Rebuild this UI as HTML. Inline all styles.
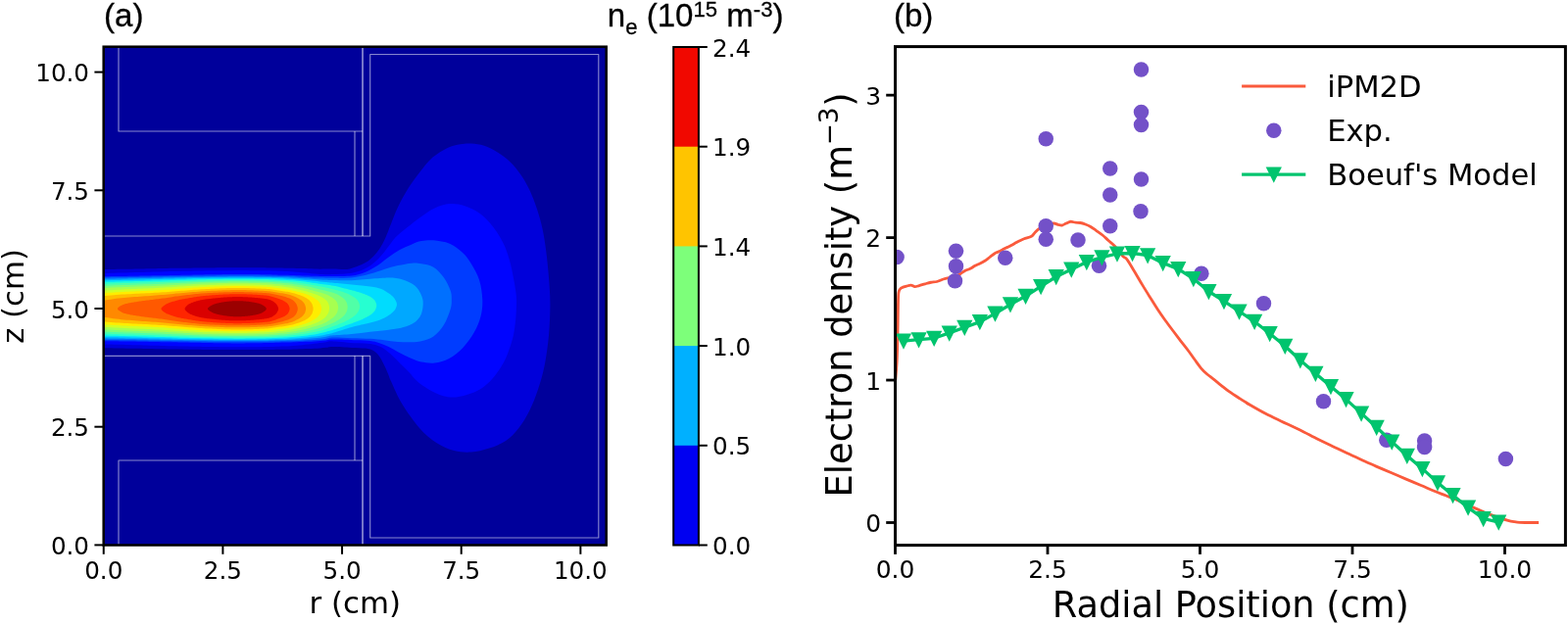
<!DOCTYPE html>
<html lang="en"><head><meta charset="utf-8"><title>Electron density</title>
<style>
html,body{margin:0;padding:0;background:#fff;}
body{width:1600px;height:636px;overflow:hidden;position:relative;}
svg text{white-space:pre;}
</style></head>
<body>
<svg width="1600" height="636" viewBox="0 0 1600 636" style="position:absolute;left:0;top:0;display:block">
<defs>
<clipPath id="cl"><rect x="105.7" y="47.7" width="513" height="508.8"/></clipPath>
<clipPath id="cr"><rect x="913.5" y="47.6" width="683.9" height="509"/></clipPath>
</defs>
<rect x="0" y="0" width="1600" height="636" fill="#ffffff"/>
<g clip-path="url(#cl)">
<rect x="105.7" y="47.7" width="513" height="508.8" fill="#00009b"/>
<path d="M104.7 275.08 C105.7 275.07 108.7 275.06 110.7 275.04 C112.7 275.02 114.7 274.99 116.7 274.96 C118.7 274.93 120.7 274.9 122.7 274.87 C124.7 274.84 126.7 274.81 128.7 274.77 C130.7 274.74 132.7 274.7 134.7 274.66 C136.7 274.62 138.7 274.58 140.7 274.54 C142.7 274.51 144.7 274.46 146.7 274.42 C148.7 274.38 150.7 274.34 152.7 274.3 C154.7 274.26 156.7 274.22 158.7 274.18 C160.7 274.15 162.7 274.11 164.7 274.07 C166.7 274.03 168.7 274 170.7 273.96 C172.7 273.93 174.7 273.9 176.7 273.87 C178.7 273.84 180.7 273.81 182.7 273.79 C184.7 273.76 186.7 273.74 188.7 273.71 C190.7 273.69 192.7 273.67 194.7 273.64 C196.7 273.62 198.7 273.6 200.7 273.57 C202.7 273.55 204.7 273.53 206.7 273.51 C208.7 273.49 210.7 273.47 212.7 273.46 C214.7 273.44 216.7 273.43 218.7 273.41 C220.7 273.4 222.7 273.39 224.7 273.37 C226.7 273.36 228.7 273.35 230.7 273.34 C232.7 273.33 234.7 273.32 236.7 273.31 C238.7 273.31 240.7 273.3 242.7 273.3 C244.7 273.3 246.7 273.3 248.7 273.3 C250.7 273.3 252.7 273.3 254.7 273.31 C256.7 273.31 258.7 273.32 260.7 273.32 C262.7 273.33 264.7 273.34 266.7 273.35 C268.7 273.36 270.7 273.37 272.7 273.38 C274.7 273.4 276.7 273.43 278.7 273.46 C280.7 273.49 282.7 273.52 284.7 273.55 C286.7 273.58 288.7 273.61 290.7 273.64 C292.7 273.68 294.7 273.71 296.7 273.76 C298.7 273.8 300.7 273.86 302.7 273.92 C304.7 273.97 306.7 274.03 308.7 274.09 C310.7 274.16 312.7 274.22 314.7 274.3 C316.7 274.37 318.7 274.48 320.7 274.54 C322.7 274.59 324.7 274.62 326.7 274.63 C328.7 274.63 330.48 274.6 332.7 274.57 C334.92 274.54 336.42 274.39 340 274.45 C343.58 274.5 350.27 275.26 354.2 274.9 C358.13 274.54 360.38 273.48 363.6 272.3 C366.82 271.12 370.52 269.65 373.5 267.8 C376.48 265.95 379.12 263.63 381.5 261.2 C383.88 258.77 385.98 255.95 387.8 253.2 C389.62 250.45 391.15 247.23 392.4 244.7 C393.65 242.17 394.17 240.78 395.3 238 C396.43 235.22 397.42 232.43 399.2 228 C400.98 223.57 403.03 217.47 406 211.4 C408.97 205.33 413.33 197.47 417 191.6 C420.67 185.73 423.95 181.33 428 176.2 C432.05 171.07 436.52 165.02 441.3 160.8 C446.08 156.58 451.93 153.17 456.7 150.9 C461.47 148.63 465.87 147.93 469.9 147.2 C473.93 146.47 476.87 146.25 480.9 146.5 C484.93 146.75 489.7 147.23 494.1 148.7 C498.5 150.17 502.9 152.55 507.3 155.3 C511.7 158.05 516.47 161.35 520.5 165.2 C524.53 169.05 528.2 173.63 531.5 178.4 C534.8 183.17 537.55 187.93 540.3 193.8 C543.05 199.67 545.8 206.98 548 213.6 C550.2 220.22 551.95 226.32 553.5 233.5 C555.05 240.68 556.22 248.37 557.3 256.7 C558.38 265.03 559.32 274.62 560 283.5 C560.68 292.38 561.4 300.2 561.4 310 C561.4 319.8 560.95 331.8 560 342.3 C559.05 352.8 557.52 363.85 555.7 373 C553.88 382.15 551.67 389.5 549.1 397.2 C546.53 404.9 543.6 412.58 540.3 419.2 C537 425.82 533.33 431.77 529.3 436.9 C525.27 442.03 521.23 446.52 516.1 450 C510.97 453.48 504.37 455.88 498.5 457.8 C492.63 459.72 486.77 461.13 480.9 461.5 C475.03 461.87 469.17 461.53 463.3 460 C457.43 458.47 451.58 456.15 445.7 452.3 C439.82 448.45 433.88 443.52 428 436.9 C422.12 430.28 415.17 420.42 410.4 412.6 C405.63 404.78 401.85 395.28 399.4 390 C396.95 384.72 397.03 383.98 395.7 380.9 C394.37 377.82 392.82 374.32 391.4 371.5 C389.98 368.68 388.85 366.2 387.2 364 C385.55 361.8 383.87 359.7 381.5 358.3 C379.13 356.9 376.77 356.17 373 355.6 C369.23 355.03 364.4 355.18 358.9 354.9 C353.4 354.62 344.37 353.96 340 353.95 C335.63 353.94 334.92 354.57 332.7 354.82 C330.48 355.07 328.7 355.28 326.7 355.45 C324.7 355.62 322.7 355.75 320.7 355.86 C318.7 355.97 316.7 356.03 314.7 356.1 C312.7 356.18 310.7 356.24 308.7 356.31 C306.7 356.37 304.7 356.43 302.7 356.48 C300.7 356.54 298.7 356.6 296.7 356.64 C294.7 356.69 292.7 356.72 290.7 356.76 C288.7 356.79 286.7 356.82 284.7 356.85 C282.7 356.88 280.7 356.91 278.7 356.94 C276.7 356.97 274.7 357 272.7 357.02 C270.7 357.03 268.7 357.04 266.7 357.05 C264.7 357.06 262.7 357.07 260.7 357.08 C258.7 357.08 256.7 357.09 254.7 357.09 C252.7 357.1 250.7 357.1 248.7 357.1 C246.7 357.1 244.7 357.1 242.7 357.1 C240.7 357.1 238.7 357.09 236.7 357.09 C234.7 357.08 232.7 357.07 230.7 357.06 C228.7 357.05 226.7 357.04 224.7 357.03 C222.7 357.01 220.7 357 218.7 356.99 C216.7 356.97 214.7 356.96 212.7 356.94 C210.7 356.93 208.7 356.91 206.7 356.89 C204.7 356.87 202.7 356.85 200.7 356.83 C198.7 356.8 196.7 356.78 194.7 356.76 C192.7 356.73 190.7 356.71 188.7 356.69 C186.7 356.66 184.7 356.64 182.7 356.61 C180.7 356.59 178.7 356.56 176.7 356.53 C174.7 356.5 172.7 356.47 170.7 356.44 C168.7 356.4 166.7 356.37 164.7 356.33 C162.7 356.29 160.7 356.25 158.7 356.22 C156.7 356.18 154.7 356.14 152.7 356.1 C150.7 356.06 148.7 356.02 146.7 355.98 C144.7 355.94 142.7 355.89 140.7 355.86 C138.7 355.82 136.7 355.78 134.7 355.74 C132.7 355.7 130.7 355.66 128.7 355.63 C126.7 355.59 124.7 355.56 122.7 355.53 C120.7 355.5 118.7 355.47 116.7 355.44 C114.7 355.41 112.7 355.38 110.7 355.36 C108.7 355.34 105.7 355.33 104.7 355.32Z" fill="#0000da"/>
<path d="M104.7 278.98 C105.7 278.97 108.7 278.93 110.7 278.88 C112.7 278.83 114.7 278.76 116.7 278.7 C118.7 278.65 120.7 278.59 122.7 278.54 C124.7 278.48 126.7 278.43 128.7 278.38 C130.7 278.33 132.7 278.27 134.7 278.22 C136.7 278.17 138.7 278.11 140.7 278.06 C142.7 278.01 144.7 277.95 146.7 277.9 C148.7 277.85 150.7 277.79 152.7 277.74 C154.7 277.68 156.7 277.63 158.7 277.57 C160.7 277.52 162.7 277.46 164.7 277.41 C166.7 277.35 168.7 277.3 170.7 277.24 C172.7 277.19 174.7 277.13 176.7 277.08 C178.7 277.03 180.7 276.98 182.7 276.94 C184.7 276.89 186.7 276.85 188.7 276.81 C190.7 276.76 192.7 276.72 194.7 276.68 C196.7 276.64 198.7 276.6 200.7 276.56 C202.7 276.52 204.7 276.48 206.7 276.45 C208.7 276.42 210.7 276.39 212.7 276.36 C214.7 276.34 216.7 276.31 218.7 276.29 C220.7 276.27 222.7 276.24 224.7 276.22 C226.7 276.2 228.7 276.18 230.7 276.17 C232.7 276.15 234.7 276.14 236.7 276.13 C238.7 276.12 240.7 276.11 242.7 276.11 C244.7 276.11 246.7 276.11 248.7 276.11 C250.7 276.12 252.7 276.13 254.7 276.14 C256.7 276.15 258.7 276.16 260.7 276.18 C262.7 276.2 264.7 276.21 266.7 276.23 C268.7 276.26 270.7 276.27 272.7 276.3 C274.7 276.34 276.7 276.4 278.7 276.46 C280.7 276.52 282.7 276.6 284.7 276.67 C286.7 276.74 288.7 276.8 290.7 276.88 C292.7 276.96 294.7 277.04 296.7 277.16 C298.7 277.29 300.7 277.46 302.7 277.63 C304.7 277.81 306.7 278 308.7 278.19 C310.7 278.39 312.7 278.58 314.7 278.81 C316.7 279.04 318.7 279.36 320.7 279.56 C322.7 279.76 324.7 279.92 326.7 280.02 C328.7 280.12 330.48 280.15 332.7 280.14 C334.92 280.14 335.63 280.26 340 280.01 C344.37 279.77 353.4 279.7 358.9 278.7 C364.4 277.7 369.07 275.88 373 274 C376.93 272.12 379.67 269.77 382.5 267.4 C385.33 265.03 387.65 262.48 390 259.8 C392.35 257.12 394.55 253.97 396.6 251.3 C398.65 248.63 400.73 245.68 402.3 243.8 C403.87 241.92 403.55 242.13 406 240 C408.45 237.87 413.33 233.93 417 231 C420.67 228.07 423.58 225.48 428 222.4 C432.42 219.32 438.35 214.88 443.5 212.5 C448.65 210.12 453.77 208.47 458.9 208.1 C464.03 207.73 469.17 208.65 474.3 210.3 C479.43 211.95 484.93 214.5 489.7 218 C494.47 221.5 498.87 226.15 502.9 231.3 C506.93 236.45 511.05 243.12 513.9 248.9 C516.75 254.68 518.33 260.23 520 266 C521.67 271.77 522.8 277.83 523.9 283.5 C525 289.17 526.08 295.55 526.6 300 C527.12 304.45 527.07 305.87 527 310.2 C526.93 314.53 526.72 320.65 526.2 326 C525.68 331.35 524.97 337.3 523.9 342.3 C522.83 347.3 521.37 351.55 519.8 356 C518.23 360.45 516.95 364.42 514.5 369 C512.05 373.58 508.5 379.25 505.1 383.5 C501.7 387.75 498.13 391.48 494.1 394.5 C490.07 397.52 485.67 399.78 480.9 401.6 C476.13 403.42 470.27 404.95 465.5 405.4 C460.73 405.85 457.07 405.67 452.3 404.3 C447.53 402.93 441.47 399.83 436.9 397.2 C432.33 394.57 428 391.22 424.9 388.5 C421.8 385.78 420.65 383.42 418.3 380.9 C415.95 378.38 413.47 376.07 410.8 373.4 C408.13 370.73 404.98 367.42 402.3 364.9 C399.62 362.38 397.22 360.18 394.7 358.3 C392.18 356.42 390.03 354.82 387.2 353.6 C384.37 352.38 381.63 351.55 377.7 351 C373.77 350.45 369.88 350.74 363.6 350.3 C357.32 349.86 345.15 348.56 340 348.38 C334.85 348.21 334.92 348.97 332.7 349.25 C330.48 349.53 328.7 349.79 326.7 350.06 C324.7 350.32 322.7 350.58 320.7 350.84 C318.7 351.09 316.7 351.36 314.7 351.59 C312.7 351.82 310.7 352.01 308.7 352.21 C306.7 352.4 304.7 352.59 302.7 352.77 C300.7 352.94 298.7 353.11 296.7 353.24 C294.7 353.36 292.7 353.44 290.7 353.52 C288.7 353.6 286.7 353.66 284.7 353.73 C282.7 353.8 280.7 353.88 278.7 353.94 C276.7 354 274.7 354.06 272.7 354.1 C270.7 354.13 268.7 354.14 266.7 354.17 C264.7 354.19 262.7 354.2 260.7 354.22 C258.7 354.24 256.7 354.25 254.7 354.26 C252.7 354.27 250.7 354.28 248.7 354.29 C246.7 354.29 244.7 354.29 242.7 354.29 C240.7 354.29 238.7 354.28 236.7 354.27 C234.7 354.26 232.7 354.25 230.7 354.23 C228.7 354.22 226.7 354.2 224.7 354.18 C222.7 354.16 220.7 354.13 218.7 354.11 C216.7 354.09 214.7 354.06 212.7 354.04 C210.7 354.01 208.7 353.98 206.7 353.95 C204.7 353.92 202.7 353.88 200.7 353.84 C198.7 353.8 196.7 353.76 194.7 353.72 C192.7 353.68 190.7 353.64 188.7 353.59 C186.7 353.55 184.7 353.51 182.7 353.46 C180.7 353.42 178.7 353.37 176.7 353.32 C174.7 353.27 172.7 353.21 170.7 353.16 C168.7 353.1 166.7 353.05 164.7 352.99 C162.7 352.94 160.7 352.88 158.7 352.83 C156.7 352.77 154.7 352.72 152.7 352.66 C150.7 352.61 148.7 352.55 146.7 352.5 C144.7 352.45 142.7 352.39 140.7 352.34 C138.7 352.29 136.7 352.23 134.7 352.18 C132.7 352.13 130.7 352.07 128.7 352.02 C126.7 351.97 124.7 351.92 122.7 351.86 C120.7 351.81 118.7 351.75 116.7 351.7 C114.7 351.64 112.7 351.57 110.7 351.52 C108.7 351.47 105.7 351.43 104.7 351.42Z" fill="#0004ff"/>
<path d="M104.7 282.2 C105.7 282.19 108.7 282.18 110.7 282.16 C112.7 282.14 114.7 282.11 116.7 282.08 C118.7 282.05 120.7 282.02 122.7 281.99 C124.7 281.96 126.7 281.93 128.7 281.9 C130.7 281.87 132.7 281.83 134.7 281.8 C136.7 281.77 138.7 281.73 140.7 281.69 C142.7 281.66 144.7 281.62 146.7 281.58 C148.7 281.55 150.7 281.51 152.7 281.47 C154.7 281.44 156.7 281.4 158.7 281.36 C160.7 281.32 162.7 281.29 164.7 281.25 C166.7 281.21 168.7 281.18 170.7 281.14 C172.7 281.1 174.7 281.06 176.7 281.03 C178.7 280.99 180.7 280.96 182.7 280.93 C184.7 280.89 186.7 280.86 188.7 280.83 C190.7 280.79 192.7 280.76 194.7 280.72 C196.7 280.68 198.7 280.63 200.7 280.59 C202.7 280.55 204.7 280.5 206.7 280.46 C208.7 280.42 210.7 280.38 212.7 280.35 C214.7 280.31 216.7 280.28 218.7 280.25 C220.7 280.21 222.7 280.18 224.7 280.15 C226.7 280.12 228.7 280.09 230.7 280.06 C232.7 280.04 234.7 280.02 236.7 280 C238.7 279.99 240.7 279.98 242.7 279.98 C244.7 279.98 246.7 279.98 248.7 279.99 C250.7 280 252.7 280.02 254.7 280.04 C256.7 280.06 258.7 280.08 260.7 280.11 C262.7 280.14 264.7 280.17 266.7 280.2 C268.7 280.23 270.7 280.25 272.7 280.31 C274.7 280.36 276.7 280.44 278.7 280.51 C280.7 280.58 282.7 280.64 284.7 280.7 C286.7 280.76 288.7 280.8 290.7 280.85 C292.7 280.9 294.7 280.94 296.7 281 C298.7 281.06 300.7 281.14 302.7 281.2 C304.7 281.27 306.7 281.33 308.7 281.4 C310.7 281.47 312.7 281.54 314.7 281.62 C316.7 281.69 318.7 281.81 320.7 281.87 C322.7 281.93 324.7 281.96 326.7 281.98 C328.7 281.99 330.48 281.98 332.7 281.96 C334.92 281.95 335.63 281.96 340 281.89 C344.37 281.81 353.4 282.2 358.9 281.5 C364.4 280.8 368.6 279.43 373 277.7 C377.4 275.97 381.37 273.62 385.3 271.1 C389.23 268.58 392.83 265.27 396.6 262.6 C400.37 259.93 403.97 257.3 407.9 255.1 C411.83 252.9 416.52 250.9 420.2 249.4 C423.88 247.9 426.32 246.78 430 246.1 C433.68 245.42 437.48 244.85 442.3 245.3 C447.12 245.75 453.93 246.68 458.9 248.8 C463.87 250.92 468.42 254.55 472.1 258 C475.78 261.45 478.17 264.82 481 269.5 C483.83 274.18 487.22 279.98 489.1 286.1 C490.98 292.22 492.08 299.95 492.3 306.2 C492.52 312.45 491.83 318.03 490.4 323.6 C488.97 329.17 486.82 334.25 483.7 339.6 C480.58 344.95 475.93 351.3 471.7 355.7 C467.47 360.1 463 363.52 458.3 366 C453.6 368.48 448.22 370 443.5 370.6 C438.78 371.2 433.42 370.15 430 369.6 C426.58 369.05 425.42 368.23 423 367.3 C420.58 366.37 418.33 365.35 415.5 364 C412.67 362.65 409.15 360.85 406 359.2 C402.85 357.55 399.73 355.6 396.6 354.1 C393.47 352.6 390.35 351.2 387.2 350.2 C384.05 349.2 381.63 348.58 377.7 348.1 C373.77 347.62 369.88 347.57 363.6 347.3 C357.32 347.03 345.15 346.49 340 346.51 C334.85 346.53 334.92 347.16 332.7 347.43 C330.48 347.69 328.7 347.92 326.7 348.1 C324.7 348.28 322.7 348.41 320.7 348.53 C318.7 348.64 316.7 348.71 314.7 348.78 C312.7 348.86 310.7 348.93 308.7 349 C306.7 349.07 304.7 349.13 302.7 349.2 C300.7 349.26 298.7 349.34 296.7 349.4 C294.7 349.46 292.7 349.5 290.7 349.55 C288.7 349.6 286.7 349.64 284.7 349.7 C282.7 349.76 280.7 349.82 278.7 349.89 C276.7 349.96 274.7 350.04 272.7 350.09 C270.7 350.15 268.7 350.17 266.7 350.2 C264.7 350.23 262.7 350.26 260.7 350.29 C258.7 350.32 256.7 350.34 254.7 350.36 C252.7 350.38 250.7 350.4 248.7 350.41 C246.7 350.42 244.7 350.42 242.7 350.42 C240.7 350.42 238.7 350.41 236.7 350.4 C234.7 350.38 232.7 350.36 230.7 350.34 C228.7 350.31 226.7 350.28 224.7 350.25 C222.7 350.22 220.7 350.19 218.7 350.15 C216.7 350.12 214.7 350.09 212.7 350.05 C210.7 350.02 208.7 349.98 206.7 349.94 C204.7 349.9 202.7 349.85 200.7 349.81 C198.7 349.77 196.7 349.72 194.7 349.68 C192.7 349.64 190.7 349.61 188.7 349.57 C186.7 349.54 184.7 349.51 182.7 349.47 C180.7 349.44 178.7 349.41 176.7 349.37 C174.7 349.34 172.7 349.3 170.7 349.26 C168.7 349.22 166.7 349.19 164.7 349.15 C162.7 349.11 160.7 349.08 158.7 349.04 C156.7 349 154.7 348.96 152.7 348.93 C150.7 348.89 148.7 348.85 146.7 348.82 C144.7 348.78 142.7 348.74 140.7 348.71 C138.7 348.67 136.7 348.63 134.7 348.6 C132.7 348.57 130.7 348.53 128.7 348.5 C126.7 348.47 124.7 348.44 122.7 348.41 C120.7 348.38 118.7 348.35 116.7 348.32 C114.7 348.29 112.7 348.26 110.7 348.24 C108.7 348.22 105.7 348.21 104.7 348.2Z" fill="#003cff"/>
<path d="M104.7 283.5 C105.7 283.5 108.7 283.48 110.7 283.45 C112.7 283.43 114.7 283.39 116.7 283.36 C118.7 283.33 120.7 283.29 122.7 283.26 C124.7 283.23 126.7 283.19 128.7 283.16 C130.7 283.12 132.7 283.09 134.7 283.05 C136.7 283.01 138.7 282.98 140.7 282.94 C142.7 282.9 144.7 282.86 146.7 282.82 C148.7 282.78 150.7 282.74 152.7 282.71 C154.7 282.67 156.7 282.63 158.7 282.59 C160.7 282.55 162.7 282.51 164.7 282.47 C166.7 282.43 168.7 282.39 170.7 282.35 C172.7 282.31 174.7 282.27 176.7 282.23 C178.7 282.2 180.7 282.17 182.7 282.14 C184.7 282.1 186.7 282.07 188.7 282.04 C190.7 282.01 192.7 281.99 194.7 281.96 C196.7 281.93 198.7 281.9 200.7 281.87 C202.7 281.84 204.7 281.81 206.7 281.79 C208.7 281.77 210.7 281.75 212.7 281.73 C214.7 281.71 216.7 281.69 218.7 281.67 C220.7 281.65 222.7 281.64 224.7 281.62 C226.7 281.61 228.7 281.59 230.7 281.58 C232.7 281.57 234.7 281.56 236.7 281.55 C238.7 281.54 240.7 281.54 242.7 281.54 C244.7 281.53 246.7 281.53 248.7 281.54 C250.7 281.54 252.7 281.55 254.7 281.55 C256.7 281.56 258.7 281.57 260.7 281.58 C262.7 281.6 264.7 281.61 266.7 281.62 C268.7 281.64 270.7 281.65 272.7 281.67 C274.7 281.7 276.7 281.74 278.7 281.78 C280.7 281.82 282.7 281.88 284.7 281.92 C286.7 281.97 288.7 282.01 290.7 282.06 C292.7 282.11 294.7 282.17 296.7 282.24 C298.7 282.31 300.7 282.41 302.7 282.49 C304.7 282.58 306.7 282.66 308.7 282.76 C310.7 282.85 312.7 282.95 314.7 283.06 C316.7 283.17 318.7 283.32 320.7 283.41 C322.7 283.5 324.7 283.56 326.7 283.61 C328.7 283.66 330.48 283.68 332.7 283.71 C334.92 283.74 335.63 283.83 340 283.82 C344.37 283.8 352.62 284.3 358.9 283.6 C365.18 282.9 372.2 281.05 377.7 279.6 C383.2 278.15 387.18 276.32 391.9 274.9 C396.62 273.48 401.28 272.13 406 271.1 C410.72 270.07 416.2 269 420.2 268.7 C424.2 268.4 426.32 268.62 430 269.3 C433.68 269.98 438.47 270.43 442.3 272.8 C446.13 275.17 450.1 279.5 453 283.5 C455.9 287.5 458.4 293.05 459.7 296.8 C461 300.55 460.8 302.87 460.8 306 C460.8 309.13 461 311.33 459.7 315.6 C458.4 319.87 455.9 326.93 453 331.6 C450.1 336.27 446.13 340.83 442.3 343.6 C438.47 346.37 433.68 347.27 430 348.2 C426.32 349.13 424.2 349.08 420.2 349.2 C416.2 349.32 410.72 349.22 406 348.9 C401.28 348.58 396.62 347.82 391.9 347.3 C387.18 346.78 383.2 346.15 377.7 345.8 C372.2 345.45 365.18 345.4 358.9 345.2 C352.62 345 344.37 344.5 340 344.58 C335.63 344.66 334.92 345.37 332.7 345.68 C330.48 346 328.7 346.24 326.7 346.46 C324.7 346.68 322.7 346.84 320.7 346.98 C318.7 347.13 316.7 347.23 314.7 347.34 C312.7 347.45 310.7 347.55 308.7 347.64 C306.7 347.74 304.7 347.82 302.7 347.91 C300.7 347.99 298.7 348.09 296.7 348.16 C294.7 348.23 292.7 348.29 290.7 348.34 C288.7 348.39 286.7 348.43 284.7 348.48 C282.7 348.52 280.7 348.58 278.7 348.62 C276.7 348.66 274.7 348.7 272.7 348.73 C270.7 348.75 268.7 348.76 266.7 348.78 C264.7 348.79 262.7 348.8 260.7 348.82 C258.7 348.83 256.7 348.84 254.7 348.85 C252.7 348.85 250.7 348.86 248.7 348.86 C246.7 348.87 244.7 348.87 242.7 348.86 C240.7 348.86 238.7 348.86 236.7 348.85 C234.7 348.84 232.7 348.83 230.7 348.82 C228.7 348.81 226.7 348.79 224.7 348.78 C222.7 348.76 220.7 348.75 218.7 348.73 C216.7 348.71 214.7 348.69 212.7 348.67 C210.7 348.65 208.7 348.63 206.7 348.61 C204.7 348.59 202.7 348.56 200.7 348.53 C198.7 348.5 196.7 348.47 194.7 348.44 C192.7 348.41 190.7 348.39 188.7 348.36 C186.7 348.33 184.7 348.3 182.7 348.26 C180.7 348.23 178.7 348.2 176.7 348.17 C174.7 348.13 172.7 348.09 170.7 348.05 C168.7 348.01 166.7 347.97 164.7 347.93 C162.7 347.89 160.7 347.85 158.7 347.81 C156.7 347.77 154.7 347.73 152.7 347.69 C150.7 347.66 148.7 347.62 146.7 347.58 C144.7 347.54 142.7 347.5 140.7 347.46 C138.7 347.42 136.7 347.39 134.7 347.35 C132.7 347.31 130.7 347.28 128.7 347.24 C126.7 347.21 124.7 347.17 122.7 347.14 C120.7 347.11 118.7 347.07 116.7 347.04 C114.7 347.01 112.7 346.97 110.7 346.95 C108.7 346.92 105.7 346.9 104.7 346.9Z" fill="#0070ff"/>
<path d="M104.7 284.83 C105.7 284.82 108.7 284.79 110.7 284.76 C112.7 284.73 114.7 284.69 116.7 284.65 C118.7 284.61 120.7 284.58 122.7 284.54 C124.7 284.5 126.7 284.47 128.7 284.43 C130.7 284.39 132.7 284.35 134.7 284.31 C136.7 284.27 138.7 284.23 140.7 284.2 C142.7 284.16 144.7 284.12 146.7 284.07 C148.7 284.03 150.7 283.99 152.7 283.95 C154.7 283.91 156.7 283.87 158.7 283.83 C160.7 283.78 162.7 283.74 164.7 283.7 C166.7 283.66 168.7 283.61 170.7 283.57 C172.7 283.53 174.7 283.48 176.7 283.44 C178.7 283.4 180.7 283.36 182.7 283.32 C184.7 283.29 186.7 283.25 188.7 283.21 C190.7 283.18 192.7 283.14 194.7 283.11 C196.7 283.07 198.7 283.03 200.7 283 C202.7 282.96 204.7 282.93 206.7 282.9 C208.7 282.87 210.7 282.85 212.7 282.82 C214.7 282.8 216.7 282.78 218.7 282.76 C220.7 282.73 222.7 282.71 224.7 282.69 C226.7 282.67 228.7 282.66 230.7 282.64 C232.7 282.63 234.7 282.61 236.7 282.6 C238.7 282.6 240.7 282.59 242.7 282.59 C244.7 282.59 246.7 282.59 248.7 282.59 C250.7 282.6 252.7 282.61 254.7 282.62 C256.7 282.63 258.7 282.64 260.7 282.66 C262.7 282.67 264.7 282.69 266.7 282.71 C268.7 282.73 270.7 282.74 272.7 282.77 C274.7 282.81 276.7 282.86 278.7 282.92 C280.7 282.97 282.7 283.04 284.7 283.1 C286.7 283.16 288.7 283.21 290.7 283.27 C292.7 283.34 294.7 283.4 296.7 283.49 C298.7 283.58 300.7 283.69 302.7 283.8 C304.7 283.9 306.7 284.01 308.7 284.13 C310.7 284.26 312.7 284.39 314.7 284.54 C316.7 284.69 318.7 284.89 320.7 285.03 C322.7 285.17 324.7 285.27 326.7 285.38 C328.7 285.48 330.48 285.55 332.7 285.65 C334.92 285.76 335.63 285.94 340 286.03 C344.37 286.12 352.62 286.41 358.9 286.2 C365.18 285.99 371.42 285.23 377.7 284.8 C383.98 284.37 391.88 283.68 396.6 283.6 C401.32 283.52 402.83 283.7 406 284.3 C409.17 284.9 412.68 285.95 415.6 287.2 C418.52 288.45 421.38 290 423.5 291.8 C425.62 293.6 427.02 295.8 428.3 298 C429.58 300.2 430.63 302.83 431.2 305 C431.77 307.17 431.77 308.92 431.7 311 C431.63 313.08 431.35 315.4 430.8 317.5 C430.25 319.6 429.53 321.77 428.4 323.6 C427.27 325.43 425.7 327.13 424 328.5 C422.3 329.87 420.4 330.83 418.2 331.8 C416 332.77 413.02 333.67 410.8 334.3 C408.58 334.93 407.27 335.18 404.9 335.6 C402.53 336.02 401.13 336.27 396.6 336.8 C392.07 337.33 383.98 338.1 377.7 338.8 C371.42 339.5 365.18 340.41 358.9 341 C352.62 341.59 344.37 341.91 340 342.37 C335.63 342.82 334.92 343.35 332.7 343.74 C330.48 344.13 328.7 344.42 326.7 344.7 C324.7 344.97 322.7 345.17 320.7 345.37 C318.7 345.56 316.7 345.71 314.7 345.86 C312.7 346.01 310.7 346.14 308.7 346.27 C306.7 346.39 304.7 346.5 302.7 346.6 C300.7 346.71 298.7 346.82 296.7 346.91 C294.7 347 292.7 347.06 290.7 347.13 C288.7 347.19 286.7 347.24 284.7 347.3 C282.7 347.36 280.7 347.43 278.7 347.48 C276.7 347.54 274.7 347.59 272.7 347.63 C270.7 347.66 268.7 347.67 266.7 347.69 C264.7 347.71 262.7 347.73 260.7 347.74 C258.7 347.76 256.7 347.77 254.7 347.78 C252.7 347.79 250.7 347.8 248.7 347.81 C246.7 347.81 244.7 347.81 242.7 347.81 C240.7 347.81 238.7 347.8 236.7 347.8 C234.7 347.79 232.7 347.77 230.7 347.76 C228.7 347.74 226.7 347.73 224.7 347.71 C222.7 347.69 220.7 347.67 218.7 347.64 C216.7 347.62 214.7 347.6 212.7 347.58 C210.7 347.55 208.7 347.53 206.7 347.5 C204.7 347.47 202.7 347.44 200.7 347.4 C198.7 347.37 196.7 347.33 194.7 347.29 C192.7 347.26 190.7 347.22 188.7 347.19 C186.7 347.15 184.7 347.11 182.7 347.08 C180.7 347.04 178.7 347 176.7 346.96 C174.7 346.92 172.7 346.87 170.7 346.83 C168.7 346.79 166.7 346.74 164.7 346.7 C162.7 346.66 160.7 346.62 158.7 346.57 C156.7 346.53 154.7 346.49 152.7 346.45 C150.7 346.41 148.7 346.37 146.7 346.33 C144.7 346.28 142.7 346.24 140.7 346.2 C138.7 346.17 136.7 346.13 134.7 346.09 C132.7 346.05 130.7 346.01 128.7 345.97 C126.7 345.93 124.7 345.9 122.7 345.86 C120.7 345.82 118.7 345.79 116.7 345.75 C114.7 345.71 112.7 345.67 110.7 345.64 C108.7 345.61 105.7 345.58 104.7 345.57Z" fill="#00a8ff"/>
<path d="M104.7 286.27 C105.7 286.26 108.7 286.23 110.7 286.19 C112.7 286.16 114.7 286.1 116.7 286.05 C118.7 286.01 120.7 285.96 122.7 285.92 C124.7 285.88 126.7 285.84 128.7 285.79 C130.7 285.75 132.7 285.71 134.7 285.66 C136.7 285.62 138.7 285.58 140.7 285.53 C142.7 285.49 144.7 285.44 146.7 285.4 C148.7 285.35 150.7 285.31 152.7 285.26 C154.7 285.22 156.7 285.17 158.7 285.12 C160.7 285.08 162.7 285.03 164.7 284.98 C166.7 284.93 168.7 284.88 170.7 284.83 C172.7 284.77 174.7 284.72 176.7 284.67 C178.7 284.62 180.7 284.57 182.7 284.52 C184.7 284.48 186.7 284.43 188.7 284.39 C190.7 284.34 192.7 284.3 194.7 284.25 C196.7 284.21 198.7 284.16 200.7 284.12 C202.7 284.08 204.7 284.04 206.7 284 C208.7 283.97 210.7 283.94 212.7 283.91 C214.7 283.88 216.7 283.86 218.7 283.83 C220.7 283.81 222.7 283.78 224.7 283.76 C226.7 283.74 228.7 283.72 230.7 283.7 C232.7 283.69 234.7 283.67 236.7 283.66 C238.7 283.65 240.7 283.65 242.7 283.64 C244.7 283.64 246.7 283.65 248.7 283.65 C250.7 283.66 252.7 283.67 254.7 283.68 C256.7 283.69 258.7 283.71 260.7 283.73 C262.7 283.75 264.7 283.77 266.7 283.79 C268.7 283.82 270.7 283.83 272.7 283.87 C274.7 283.91 276.7 283.98 278.7 284.05 C280.7 284.12 282.7 284.21 284.7 284.28 C286.7 284.36 288.7 284.43 290.7 284.51 C292.7 284.6 294.7 284.68 296.7 284.79 C298.7 284.91 300.7 285.06 302.7 285.2 C304.7 285.34 306.7 285.48 308.7 285.64 C310.7 285.81 312.7 285.98 314.7 286.18 C316.7 286.39 318.7 286.65 320.7 286.85 C322.7 287.05 324.7 287.22 326.7 287.4 C328.7 287.59 330.48 287.73 332.7 287.95 C334.92 288.17 335.63 288.3 340 288.72 C344.37 289.15 352.62 289.89 358.9 290.5 C365.18 291.11 372.67 291.67 377.7 292.4 C382.73 293.13 385.92 293.72 389.1 294.9 C392.28 296.08 394.65 297.98 396.8 299.5 C398.95 301.02 400.65 302.25 402 304 C403.35 305.75 404.62 308.17 404.9 310 C405.18 311.83 404.35 313.58 403.7 315 C403.05 316.42 402.45 317.17 401 318.5 C399.55 319.83 397.67 321.5 395 323 C392.33 324.5 389.17 326.12 385 327.5 C380.83 328.88 374.35 330.22 370 331.3 C365.65 332.38 363.9 332.6 358.9 334 C353.9 335.4 344.37 338.43 340 339.68 C335.63 340.92 334.92 340.95 332.7 341.45 C330.48 341.95 328.7 342.32 326.7 342.67 C324.7 343.02 322.7 343.29 320.7 343.55 C318.7 343.8 316.7 344.01 314.7 344.22 C312.7 344.42 310.7 344.59 308.7 344.76 C306.7 344.92 304.7 345.06 302.7 345.2 C300.7 345.34 298.7 345.49 296.7 345.61 C294.7 345.72 292.7 345.8 290.7 345.89 C288.7 345.97 286.7 346.04 284.7 346.12 C282.7 346.19 280.7 346.28 278.7 346.35 C276.7 346.42 274.7 346.49 272.7 346.53 C270.7 346.57 268.7 346.58 266.7 346.61 C264.7 346.63 262.7 346.65 260.7 346.67 C258.7 346.69 256.7 346.71 254.7 346.72 C252.7 346.73 250.7 346.74 248.7 346.75 C246.7 346.75 244.7 346.76 242.7 346.76 C240.7 346.75 238.7 346.75 236.7 346.74 C234.7 346.73 232.7 346.71 230.7 346.7 C228.7 346.68 226.7 346.66 224.7 346.64 C222.7 346.62 220.7 346.59 218.7 346.57 C216.7 346.54 214.7 346.52 212.7 346.49 C210.7 346.46 208.7 346.43 206.7 346.4 C204.7 346.36 202.7 346.32 200.7 346.28 C198.7 346.24 196.7 346.19 194.7 346.15 C192.7 346.1 190.7 346.06 188.7 346.01 C186.7 345.97 184.7 345.92 182.7 345.88 C180.7 345.83 178.7 345.78 176.7 345.73 C174.7 345.68 172.7 345.63 170.7 345.57 C168.7 345.52 166.7 345.47 164.7 345.42 C162.7 345.37 160.7 345.32 158.7 345.28 C156.7 345.23 154.7 345.18 152.7 345.14 C150.7 345.09 148.7 345.05 146.7 345 C144.7 344.96 142.7 344.91 140.7 344.87 C138.7 344.82 136.7 344.78 134.7 344.74 C132.7 344.69 130.7 344.65 128.7 344.61 C126.7 344.56 124.7 344.52 122.7 344.48 C120.7 344.44 118.7 344.39 116.7 344.35 C114.7 344.3 112.7 344.24 110.7 344.21 C108.7 344.17 105.7 344.14 104.7 344.13Z" fill="#00dcfe"/>
<path d="M104.7 287.89 L108.39 287.84 L112.08 287.75 L115.77 287.64 L119.45 287.53 L123.13 287.44 L126.81 287.35 L130.49 287.26 L134.16 287.17 L137.83 287.08 L141.49 286.98 L145.14 286.89 L148.79 286.8 L152.43 286.71 L156.06 286.61 L159.68 286.51 L163.29 286.41 L166.89 286.31 L170.49 286.2 L174.07 286.09 L177.63 285.98 L181.19 285.87 L184.73 285.77 L188.26 285.67 L191.77 285.58 L195.27 285.49 L198.75 285.39 L202.22 285.3 L205.67 285.22 L209.1 285.15 L212.51 285.09 L215.91 285.03 L219.28 284.98 L222.64 284.93 L225.97 284.89 L229.28 284.85 L232.58 284.81 L235.84 284.79 L239.09 284.77 L242.31 284.76 L245.51 284.76 L248.69 284.77 L251.84 284.79 L254.96 284.81 L258.06 284.84 L261.13 284.88 L264.17 284.92 L267.19 284.96 L270.18 285.01 L273.14 285.06 L276.07 285.16 L278.97 285.29 L281.83 285.43 L284.67 285.57 L287.48 285.7 L290.26 285.83 L293 285.98 L295.71 286.15 L298.38 286.35 L301.03 286.59 L303.64 286.84 L306.21 287.09 L308.75 287.35 L311.25 287.62 L313.72 287.94 L316.15 288.28 L318.55 288.65 L320.9 289.02 L323.22 289.35 L325.5 289.65 L327.75 289.94 L329.95 290.24 L332.11 290.53 L334.24 290.82 L336.32 291.11 L338.37 291.4 L340.37 291.73 L342.34 292.09 L344.26 292.51 L346.14 292.98 L347.97 293.46 L349.77 293.94 L351.52 294.4 L353.23 294.85 L354.9 295.28 L356.52 295.69 L358.1 296.07 L359.63 296.46 L361.12 296.84 L362.57 297.24 L363.97 297.63 L365.33 298.02 L366.64 298.4 L367.9 298.8 L369.12 299.21 L370.29 299.63 L371.42 300.05 L372.5 300.48 L373.53 300.92 L374.52 301.35 L375.46 301.77 L376.35 302.18 L377.19 302.6 L377.99 303.01 L378.74 303.45 L379.44 303.92 L380.09 304.44 L380.7 304.96 L381.26 305.47 L381.77 305.98 L382.23 306.5 L382.64 307.05 L383.01 307.67 L383.32 308.41 L383.59 309.09 L383.81 309.71 L383.98 310.3 L384.1 310.85 L384.18 311.38 L384.2 311.89 L384.18 312.4 L384.1 312.94 L383.98 313.5 L383.81 314.11 L383.59 314.76 L383.32 315.48 L383.01 316.25 L382.64 316.91 L382.23 317.51 L381.77 318.09 L381.26 318.66 L380.7 319.24 L380.09 319.83 L379.44 320.42 L378.74 320.96 L377.99 321.48 L377.19 321.98 L376.35 322.48 L375.46 322.99 L374.52 323.5 L373.53 324.03 L372.5 324.57 L371.42 325.11 L370.29 325.64 L369.12 326.17 L367.9 326.7 L366.64 327.23 L365.33 327.76 L363.97 328.28 L362.57 328.81 L361.12 329.35 L359.63 329.88 L358.1 330.42 L356.52 330.97 L354.9 331.53 L353.23 332.12 L351.52 332.74 L349.77 333.38 L347.97 334.04 L346.14 334.71 L344.26 335.36 L342.34 336 L340.37 336.62 L338.37 337.21 L336.32 337.79 L334.24 338.37 L332.11 338.94 L329.95 339.5 L327.75 340.03 L325.5 340.52 L323.22 340.97 L320.9 341.38 L318.55 341.75 L316.15 342.12 L313.72 342.46 L311.25 342.78 L308.75 343.05 L306.21 343.31 L303.64 343.56 L301.03 343.81 L298.38 344.05 L295.71 344.25 L293 344.42 L290.26 344.57 L287.48 344.7 L284.67 344.83 L281.83 344.97 L278.97 345.11 L276.07 345.24 L273.14 345.34 L270.18 345.39 L267.19 345.44 L264.17 345.48 L261.13 345.52 L258.06 345.56 L254.96 345.59 L251.84 345.61 L248.69 345.63 L245.51 345.64 L242.31 345.64 L239.09 345.63 L235.84 345.61 L232.58 345.59 L229.28 345.55 L225.97 345.51 L222.64 345.47 L219.28 345.42 L215.91 345.37 L212.51 345.31 L209.1 345.25 L205.67 345.18 L202.22 345.1 L198.75 345.01 L195.27 344.91 L191.77 344.82 L188.26 344.73 L184.73 344.63 L181.19 344.53 L177.63 344.42 L174.07 344.31 L170.49 344.2 L166.89 344.09 L163.29 343.99 L159.68 343.89 L156.06 343.79 L152.43 343.69 L148.79 343.6 L145.14 343.51 L141.49 343.42 L137.83 343.32 L134.16 343.23 L130.49 343.14 L126.81 343.05 L123.13 342.96 L119.45 342.87 L115.77 342.76 L112.08 342.65 L108.39 342.56 L104.7 342.51Z" fill="#26ffd1"/>
<path d="M104.7 289.77 L108.16 289.7 L111.63 289.6 L115.09 289.46 L118.55 289.33 L122.01 289.22 L125.46 289.12 L128.91 289.02 L132.36 288.92 L135.8 288.82 L139.24 288.72 L142.67 288.62 L146.09 288.52 L149.51 288.42 L152.92 288.32 L156.32 288.22 L159.71 288.11 L163.09 288 L166.46 287.89 L169.82 287.76 L173.17 287.63 L176.51 287.5 L179.83 287.38 L183.15 287.26 L186.44 287.14 L189.73 287.04 L193 286.92 L196.25 286.81 L199.49 286.71 L202.71 286.6 L205.92 286.51 L209.1 286.43 L212.27 286.36 L215.42 286.3 L218.55 286.24 L221.66 286.18 L224.75 286.13 L227.82 286.08 L230.87 286.04 L233.9 286.01 L236.9 285.98 L239.88 285.97 L242.84 285.96 L245.77 285.97 L248.68 285.98 L251.56 286 L254.42 286.02 L257.25 286.06 L260.05 286.09 L262.83 286.14 L265.58 286.18 L268.3 286.23 L271 286.29 L273.66 286.36 L276.3 286.48 L278.9 286.63 L281.48 286.79 L284.02 286.95 L286.53 287.1 L289.02 287.25 L291.47 287.41 L293.88 287.59 L296.27 287.79 L298.62 288.03 L300.93 288.3 L303.21 288.59 L305.46 288.88 L307.68 289.17 L309.85 289.48 L311.99 289.8 L314.1 290.15 L316.17 290.53 L318.2 290.91 L320.2 291.28 L322.15 291.62 L324.07 291.93 L325.95 292.23 L327.8 292.55 L329.6 292.89 L331.37 293.26 L333.09 293.66 L334.78 294.05 L336.42 294.43 L338.03 294.8 L339.59 295.16 L341.11 295.52 L342.6 295.89 L344.04 296.26 L345.44 296.64 L346.79 297.02 L348.11 297.42 L349.38 297.84 L350.61 298.27 L351.8 298.7 L352.94 299.14 L354.04 299.6 L355.1 300.05 L356.11 300.51 L357.08 300.99 L358.01 301.48 L358.89 301.97 L359.73 302.45 L360.52 302.92 L361.27 303.39 L361.97 303.87 L362.63 304.36 L363.25 304.9 L363.82 305.49 L364.34 306.05 L364.82 306.61 L365.25 307.17 L365.64 307.75 L365.98 308.38 L366.28 309.14 L366.53 309.87 L366.73 310.54 L366.89 311.15 L367.01 311.73 L367.08 312.27 L367.1 312.79 L367.08 313.32 L367.01 313.87 L366.89 314.46 L366.73 315.09 L366.53 315.77 L366.28 316.53 L365.98 317.32 L365.64 317.99 L365.25 318.61 L364.82 319.21 L364.34 319.82 L363.82 320.44 L363.25 321.08 L362.63 321.68 L361.97 322.24 L361.27 322.79 L360.52 323.33 L359.73 323.88 L358.89 324.44 L358.01 325.03 L357.08 325.61 L356.11 326.18 L355.1 326.74 L354.04 327.3 L352.94 327.86 L351.8 328.42 L350.61 328.97 L349.38 329.52 L348.11 330.07 L346.79 330.6 L345.44 331.12 L344.04 331.64 L342.6 332.18 L341.11 332.73 L339.59 333.29 L338.03 333.87 L336.42 334.45 L334.78 335.06 L333.09 335.68 L331.37 336.3 L329.6 336.89 L327.8 337.42 L325.95 337.91 L324.07 338.34 L322.15 338.75 L320.2 339.12 L318.2 339.49 L316.17 339.87 L314.1 340.25 L311.99 340.6 L309.85 340.92 L307.68 341.23 L305.46 341.52 L303.21 341.81 L300.93 342.1 L298.62 342.37 L296.27 342.61 L293.88 342.81 L291.47 342.99 L289.02 343.15 L286.53 343.3 L284.02 343.45 L281.48 343.61 L278.9 343.77 L276.3 343.92 L273.66 344.04 L271 344.11 L268.3 344.17 L265.58 344.22 L262.83 344.26 L260.05 344.31 L257.25 344.34 L254.42 344.38 L251.56 344.4 L248.68 344.42 L245.77 344.43 L242.84 344.44 L239.88 344.43 L236.9 344.42 L233.9 344.39 L230.87 344.36 L227.82 344.32 L224.75 344.27 L221.66 344.22 L218.55 344.16 L215.42 344.1 L212.27 344.04 L209.1 343.97 L205.92 343.89 L202.71 343.8 L199.49 343.69 L196.25 343.59 L193 343.48 L189.73 343.36 L186.44 343.26 L183.15 343.14 L179.83 343.02 L176.51 342.9 L173.17 342.77 L169.82 342.64 L166.46 342.51 L163.09 342.4 L159.71 342.29 L156.32 342.18 L152.92 342.08 L149.51 341.98 L146.09 341.88 L142.67 341.78 L139.24 341.68 L135.8 341.58 L132.36 341.48 L128.91 341.38 L125.46 341.28 L122.01 341.18 L118.55 341.07 L115.09 340.94 L111.63 340.8 L108.16 340.7 L104.7 340.63Z" fill="#50ffa7"/>
<path d="M104.7 291.82 L108 291.75 L111.3 291.64 L114.6 291.5 L117.89 291.35 L121.19 291.23 L124.48 291.12 L127.77 291.01 L131.05 290.9 L134.33 290.79 L137.6 290.69 L140.87 290.58 L144.13 290.48 L147.39 290.37 L150.64 290.26 L153.88 290.15 L157.11 290.04 L160.33 289.92 L163.54 289.79 L166.74 289.66 L169.94 289.52 L173.12 289.37 L176.28 289.22 L179.44 289.07 L182.58 288.92 L185.71 288.78 L188.83 288.65 L191.93 288.52 L195.01 288.39 L198.08 288.26 L201.13 288.14 L204.17 288.02 L207.19 287.92 L210.19 287.83 L213.17 287.76 L216.13 287.69 L219.08 287.62 L222 287.55 L224.91 287.49 L227.79 287.44 L230.65 287.39 L233.49 287.35 L236.31 287.32 L239.1 287.3 L241.87 287.29 L244.62 287.29 L247.34 287.3 L250.04 287.32 L252.71 287.35 L255.36 287.38 L257.98 287.42 L260.57 287.47 L263.14 287.52 L265.68 287.57 L268.19 287.63 L270.67 287.7 L273.12 287.77 L275.55 287.9 L277.94 288.06 L280.31 288.24 L282.64 288.44 L284.94 288.62 L287.21 288.79 L289.45 288.97 L291.66 289.15 L293.83 289.36 L295.98 289.58 L298.08 289.85 L300.16 290.15 L302.2 290.46 L304.2 290.76 L306.18 291.05 L308.11 291.35 L310.01 291.65 L311.88 291.97 L313.71 292.32 L315.5 292.7 L317.25 293.12 L318.97 293.56 L320.65 294 L322.3 294.41 L323.9 294.81 L325.47 295.18 L327 295.53 L328.49 295.88 L329.94 296.24 L331.35 296.59 L332.73 296.94 L334.06 297.27 L335.35 297.6 L336.61 297.93 L337.82 298.27 L338.99 298.62 L340.12 298.97 L341.21 299.34 L342.26 299.72 L343.27 300.12 L344.23 300.55 L345.16 300.99 L346.04 301.46 L346.88 301.95 L347.68 302.46 L348.43 302.96 L349.15 303.46 L349.82 303.95 L350.44 304.46 L351.03 305 L351.57 305.59 L352.07 306.22 L352.53 306.83 L352.94 307.43 L353.31 308.04 L353.63 308.69 L353.92 309.44 L354.16 310.26 L354.35 310.99 L354.5 311.65 L354.61 312.27 L354.68 312.86 L354.7 313.42 L354.68 313.98 L354.61 314.57 L354.5 315.2 L354.35 315.88 L354.16 316.63 L353.92 317.47 L353.63 318.25 L353.31 318.93 L352.94 319.58 L352.53 320.22 L352.07 320.88 L351.57 321.55 L351.03 322.2 L350.44 322.79 L349.82 323.36 L349.15 323.93 L348.43 324.49 L347.68 325.07 L346.88 325.66 L346.04 326.24 L345.16 326.79 L344.23 327.33 L343.27 327.87 L342.26 328.39 L341.21 328.9 L340.12 329.41 L338.99 329.91 L337.82 330.42 L336.61 330.93 L335.35 331.43 L334.06 331.94 L332.73 332.45 L331.35 332.98 L329.94 333.5 L328.49 334.02 L327 334.52 L325.47 335 L323.9 335.47 L322.3 335.94 L320.65 336.4 L318.97 336.84 L317.25 337.28 L315.5 337.7 L313.71 338.08 L311.88 338.43 L310.01 338.75 L308.11 339.05 L306.18 339.35 L304.2 339.64 L302.2 339.94 L300.16 340.25 L298.08 340.55 L295.98 340.82 L293.83 341.04 L291.66 341.25 L289.45 341.43 L287.21 341.61 L284.94 341.78 L282.64 341.96 L280.31 342.16 L277.94 342.34 L275.55 342.5 L273.12 342.63 L270.67 342.7 L268.19 342.77 L265.68 342.83 L263.14 342.88 L260.57 342.93 L257.98 342.98 L255.36 343.02 L252.71 343.05 L250.04 343.08 L247.34 343.1 L244.62 343.11 L241.87 343.11 L239.1 343.1 L236.31 343.08 L233.49 343.05 L230.65 343.01 L227.79 342.96 L224.91 342.91 L222 342.85 L219.08 342.78 L216.13 342.71 L213.17 342.64 L210.19 342.57 L207.19 342.48 L204.17 342.38 L201.13 342.26 L198.08 342.14 L195.01 342.01 L191.93 341.88 L188.83 341.75 L185.71 341.62 L182.58 341.48 L179.44 341.33 L176.28 341.18 L173.12 341.03 L169.94 340.88 L166.74 340.74 L163.54 340.61 L160.33 340.48 L157.11 340.36 L153.88 340.25 L150.64 340.14 L147.39 340.03 L144.13 339.92 L140.87 339.82 L137.6 339.71 L134.33 339.61 L131.05 339.5 L127.77 339.39 L124.48 339.28 L121.19 339.17 L117.89 339.05 L114.6 338.9 L111.3 338.76 L108 338.65 L104.7 338.58Z" fill="#7dff7a"/>
<path d="M104.7 294.01 L107.87 293.92 L111.05 293.78 L114.22 293.61 L117.39 293.43 L120.55 293.28 L123.72 293.16 L126.88 293.03 L130.04 292.92 L133.19 292.81 L136.34 292.7 L139.48 292.59 L142.62 292.48 L145.75 292.37 L148.87 292.26 L151.99 292.15 L155.1 292.03 L158.19 291.91 L161.28 291.79 L164.36 291.66 L167.43 291.53 L170.49 291.38 L173.53 291.22 L176.57 291.06 L179.59 290.9 L182.6 290.74 L185.59 290.59 L188.58 290.44 L191.54 290.3 L194.49 290.15 L197.43 290 L200.35 289.85 L203.25 289.71 L206.14 289.59 L209.01 289.48 L211.86 289.39 L214.69 289.31 L217.5 289.23 L220.29 289.15 L223.06 289.07 L225.81 289.01 L228.55 288.95 L231.25 288.89 L233.94 288.85 L236.61 288.82 L239.25 288.79 L241.86 288.78 L244.46 288.79 L247.03 288.8 L249.57 288.82 L252.09 288.85 L254.59 288.89 L257.05 288.93 L259.5 288.98 L261.91 289.04 L264.3 289.1 L266.66 289.17 L268.99 289.24 L271.29 289.31 L273.56 289.41 L275.81 289.56 L278.02 289.75 L280.2 289.96 L282.36 290.17 L284.48 290.37 L286.57 290.56 L288.63 290.74 L290.66 290.93 L292.65 291.13 L294.61 291.34 L296.54 291.58 L298.44 291.86 L300.3 292.16 L302.13 292.48 L303.92 292.81 L305.68 293.14 L307.4 293.49 L309.09 293.86 L310.74 294.25 L312.36 294.65 L313.94 295.08 L315.49 295.51 L316.99 295.94 L318.46 296.36 L319.9 296.78 L321.29 297.16 L322.65 297.53 L323.97 297.87 L325.25 298.19 L326.5 298.52 L327.7 298.85 L328.87 299.2 L329.99 299.56 L331.08 299.92 L332.13 300.3 L333.14 300.7 L334.11 301.12 L335.03 301.54 L335.92 301.98 L336.77 302.43 L337.58 302.89 L338.35 303.35 L339.07 303.8 L339.76 304.24 L340.4 304.7 L341.01 305.17 L341.57 305.67 L342.09 306.23 L342.57 306.81 L343.01 307.39 L343.41 307.96 L343.76 308.55 L344.07 309.18 L344.35 309.92 L344.58 310.73 L344.76 311.45 L344.91 312.12 L345.02 312.74 L345.08 313.33 L345.1 313.89 L345.08 314.46 L345.02 315.06 L344.91 315.69 L344.76 316.37 L344.58 317.12 L344.35 317.95 L344.07 318.72 L343.76 319.38 L343.41 320.01 L343.01 320.63 L342.57 321.26 L342.09 321.9 L341.57 322.53 L341.01 323.1 L340.4 323.65 L339.76 324.19 L339.07 324.73 L338.35 325.27 L337.58 325.83 L336.77 326.41 L335.92 326.98 L335.03 327.53 L334.11 328.09 L333.14 328.63 L332.13 329.17 L331.08 329.68 L329.99 330.17 L328.87 330.65 L327.7 331.13 L326.5 331.57 L325.25 332 L323.97 332.41 L322.65 332.82 L321.29 333.22 L319.9 333.62 L318.46 334.04 L316.99 334.46 L315.49 334.89 L313.94 335.32 L312.36 335.75 L310.74 336.15 L309.09 336.54 L307.4 336.91 L305.68 337.26 L303.92 337.59 L302.13 337.92 L300.3 338.24 L298.44 338.54 L296.54 338.82 L294.61 339.06 L292.65 339.27 L290.66 339.47 L288.63 339.66 L286.57 339.84 L284.48 340.03 L282.36 340.23 L280.2 340.44 L278.02 340.65 L275.81 340.84 L273.56 340.99 L271.29 341.09 L268.99 341.16 L266.66 341.23 L264.3 341.3 L261.91 341.36 L259.5 341.42 L257.05 341.47 L254.59 341.51 L252.09 341.55 L249.57 341.58 L247.03 341.6 L244.46 341.61 L241.86 341.62 L239.25 341.61 L236.61 341.58 L233.94 341.55 L231.25 341.51 L228.55 341.45 L225.81 341.39 L223.06 341.33 L220.29 341.25 L217.5 341.17 L214.69 341.09 L211.86 341.01 L209.01 340.92 L206.14 340.81 L203.25 340.69 L200.35 340.55 L197.43 340.4 L194.49 340.25 L191.54 340.1 L188.58 339.96 L185.59 339.81 L182.6 339.66 L179.59 339.5 L176.57 339.34 L173.53 339.18 L170.49 339.02 L167.43 338.87 L164.36 338.74 L161.28 338.61 L158.19 338.49 L155.1 338.37 L151.99 338.25 L148.87 338.14 L145.75 338.03 L142.62 337.92 L139.48 337.81 L136.34 337.7 L133.19 337.59 L130.04 337.48 L126.88 337.37 L123.72 337.24 L120.55 337.12 L117.39 336.97 L114.22 336.79 L111.05 336.62 L107.87 336.48 L104.7 336.39Z" fill="#a7ff50"/>
<path d="M104.7 296.59 L107.75 296.5 L110.81 296.35 L113.86 296.16 L116.91 295.97 L119.96 295.79 L123.01 295.64 L126.05 295.5 L129.09 295.36 L132.13 295.23 L135.16 295.09 L138.18 294.96 L141.2 294.83 L144.21 294.7 L147.22 294.57 L150.22 294.43 L153.21 294.29 L156.19 294.15 L159.16 294 L162.13 293.85 L165.08 293.68 L168.03 293.51 L170.96 293.32 L173.88 293.13 L176.79 292.94 L179.68 292.76 L182.57 292.58 L185.44 292.41 L188.29 292.25 L191.13 292.1 L193.96 291.95 L196.77 291.79 L199.56 291.64 L202.34 291.49 L205.1 291.36 L207.84 291.24 L210.57 291.14 L213.28 291.05 L215.96 290.97 L218.63 290.88 L221.28 290.8 L223.91 290.73 L226.52 290.65 L229.1 290.59 L231.67 290.54 L234.21 290.49 L236.73 290.46 L239.23 290.43 L241.7 290.42 L244.15 290.43 L246.57 290.44 L248.98 290.46 L251.35 290.49 L253.7 290.53 L256.02 290.57 L258.32 290.62 L260.59 290.68 L262.84 290.74 L265.05 290.81 L267.24 290.88 L269.4 290.95 L271.53 291.03 L273.63 291.13 L275.71 291.28 L277.75 291.47 L279.76 291.68 L281.74 291.89 L283.7 292.1 L285.62 292.3 L287.5 292.49 L289.36 292.69 L291.19 292.91 L292.98 293.14 L294.74 293.4 L296.46 293.69 L298.16 294.03 L299.82 294.4 L301.44 294.78 L303.03 295.15 L304.59 295.5 L306.11 295.85 L307.59 296.19 L309.05 296.54 L310.46 296.89 L311.84 297.25 L313.18 297.61 L314.49 297.99 L315.76 298.38 L317 298.77 L318.19 299.18 L319.35 299.58 L320.47 299.97 L321.56 300.35 L322.61 300.73 L323.61 301.11 L324.58 301.5 L325.52 301.9 L326.41 302.31 L327.27 302.72 L328.08 303.16 L328.86 303.61 L329.6 304.06 L330.3 304.5 L330.96 304.95 L331.58 305.4 L332.16 305.87 L332.7 306.38 L333.2 306.95 L333.66 307.53 L334.09 308.09 L334.47 308.66 L334.81 309.25 L335.11 309.87 L335.37 310.62 L335.6 311.4 L335.78 312.1 L335.92 312.74 L336.02 313.35 L336.08 313.92 L336.1 314.47 L336.08 315.01 L336.02 315.6 L335.92 316.21 L335.78 316.88 L335.6 317.6 L335.37 318.41 L335.11 319.19 L334.81 319.86 L334.47 320.49 L334.09 321.11 L333.66 321.74 L333.2 322.37 L332.7 323.01 L332.16 323.59 L331.58 324.14 L330.96 324.67 L330.3 325.19 L329.6 325.72 L328.86 326.24 L328.08 326.78 L327.27 327.3 L326.41 327.79 L325.52 328.27 L324.58 328.74 L323.61 329.19 L322.61 329.62 L321.56 330.03 L320.47 330.43 L319.35 330.82 L318.19 331.22 L317 331.63 L315.76 332.02 L314.49 332.41 L313.18 332.79 L311.84 333.15 L310.46 333.51 L309.05 333.86 L307.59 334.21 L306.11 334.55 L304.59 334.9 L303.03 335.25 L301.44 335.62 L299.82 336 L298.16 336.37 L296.46 336.71 L294.74 337 L292.98 337.26 L291.19 337.49 L289.36 337.71 L287.5 337.91 L285.62 338.1 L283.7 338.3 L281.74 338.51 L279.76 338.72 L277.75 338.93 L275.71 339.12 L273.63 339.27 L271.53 339.37 L269.4 339.45 L267.24 339.52 L265.05 339.59 L262.84 339.66 L260.59 339.72 L258.32 339.78 L256.02 339.83 L253.7 339.87 L251.35 339.91 L248.98 339.94 L246.57 339.96 L244.15 339.97 L241.7 339.98 L239.23 339.97 L236.73 339.94 L234.21 339.91 L231.67 339.86 L229.1 339.81 L226.52 339.75 L223.91 339.67 L221.28 339.6 L218.63 339.52 L215.96 339.43 L213.28 339.35 L210.57 339.26 L207.84 339.16 L205.1 339.04 L202.34 338.91 L199.56 338.76 L196.77 338.61 L193.96 338.45 L191.13 338.3 L188.29 338.15 L185.44 337.99 L182.57 337.82 L179.68 337.64 L176.79 337.46 L173.88 337.27 L170.96 337.08 L168.03 336.89 L165.08 336.72 L162.13 336.55 L159.16 336.4 L156.19 336.25 L153.21 336.11 L150.22 335.97 L147.22 335.83 L144.21 335.7 L141.2 335.57 L138.18 335.44 L135.16 335.31 L132.13 335.17 L129.09 335.04 L126.05 334.9 L123.01 334.76 L119.96 334.61 L116.91 334.43 L113.86 334.24 L110.81 334.05 L107.75 333.9 L104.7 333.81Z" fill="#d1ff26"/>
<path d="M104.7 299.12 L107.65 299.02 L110.59 298.86 L113.54 298.67 L116.48 298.47 L119.42 298.29 L122.36 298.13 L125.29 297.99 L128.23 297.85 L131.15 297.71 L134.08 297.58 L136.99 297.46 L139.91 297.33 L142.81 297.2 L145.71 297.07 L148.61 296.94 L151.49 296.8 L154.37 296.66 L157.23 296.52 L160.09 296.37 L162.94 296.21 L165.78 296.04 L168.61 295.86 L171.43 295.66 L174.23 295.44 L177.03 295.23 L179.81 295.01 L182.57 294.79 L185.33 294.58 L188.07 294.38 L190.79 294.18 L193.51 293.98 L196.2 293.77 L198.88 293.58 L201.54 293.39 L204.19 293.22 L206.82 293.07 L209.43 292.94 L212.02 292.83 L214.59 292.73 L217.15 292.64 L219.68 292.55 L222.2 292.46 L224.69 292.38 L227.17 292.31 L229.62 292.24 L232.05 292.19 L234.46 292.14 L236.85 292.1 L239.21 292.08 L241.55 292.07 L243.86 292.07 L246.15 292.08 L248.42 292.1 L250.66 292.13 L252.88 292.17 L255.07 292.21 L257.23 292.26 L259.37 292.32 L261.48 292.39 L263.56 292.45 L265.62 292.53 L267.65 292.61 L269.65 292.69 L271.62 292.78 L273.56 292.89 L275.47 293.07 L277.35 293.29 L279.2 293.54 L281.03 293.8 L282.82 294.07 L284.58 294.32 L286.31 294.56 L288 294.79 L289.67 295.02 L291.3 295.26 L292.9 295.5 L294.47 295.76 L296 296.04 L297.5 296.34 L298.97 296.67 L300.41 297.01 L301.8 297.36 L303.17 297.7 L304.5 298.02 L305.8 298.34 L307.06 298.65 L308.28 298.98 L309.47 299.31 L310.63 299.66 L311.75 300.02 L312.83 300.39 L313.87 300.79 L314.88 301.21 L315.86 301.66 L316.79 302.13 L317.69 302.6 L318.55 303.08 L319.38 303.57 L320.17 304.05 L320.92 304.51 L321.63 304.96 L322.3 305.39 L322.94 305.83 L323.54 306.29 L324.1 306.76 L324.62 307.29 L325.11 307.83 L325.55 308.36 L325.96 308.89 L326.33 309.42 L326.66 309.99 L326.95 310.6 L327.2 311.35 L327.41 312.07 L327.59 312.72 L327.73 313.33 L327.82 313.91 L327.88 314.45 L327.9 314.98 L327.88 315.51 L327.82 316.06 L327.73 316.65 L327.59 317.27 L327.41 317.94 L327.2 318.68 L326.95 319.45 L326.66 320.09 L326.33 320.68 L325.96 321.25 L325.55 321.81 L325.11 322.37 L324.62 322.95 L324.1 323.51 L323.54 324.02 L322.94 324.5 L322.3 324.96 L321.63 325.42 L320.92 325.88 L320.17 326.35 L319.38 326.83 L318.55 327.32 L317.69 327.8 L316.79 328.27 L315.86 328.74 L314.88 329.19 L313.87 329.61 L312.83 330.01 L311.75 330.38 L310.63 330.74 L309.47 331.09 L308.28 331.42 L307.06 331.75 L305.8 332.06 L304.5 332.38 L303.17 332.7 L301.8 333.04 L300.41 333.39 L298.97 333.73 L297.5 334.06 L296 334.36 L294.47 334.64 L292.9 334.9 L291.3 335.14 L289.67 335.38 L288 335.61 L286.31 335.84 L284.58 336.08 L282.82 336.33 L281.03 336.6 L279.2 336.86 L277.35 337.11 L275.47 337.33 L273.56 337.51 L271.62 337.62 L269.65 337.71 L267.65 337.79 L265.62 337.87 L263.56 337.95 L261.48 338.01 L259.37 338.08 L257.23 338.14 L255.07 338.19 L252.88 338.23 L250.66 338.27 L248.42 338.3 L246.15 338.32 L243.86 338.33 L241.55 338.33 L239.21 338.32 L236.85 338.3 L234.46 338.26 L232.05 338.21 L229.62 338.16 L227.17 338.09 L224.69 338.02 L222.2 337.94 L219.68 337.85 L217.15 337.76 L214.59 337.67 L212.02 337.57 L209.43 337.46 L206.82 337.33 L204.19 337.18 L201.54 337.01 L198.88 336.82 L196.2 336.63 L193.51 336.42 L190.79 336.22 L188.07 336.02 L185.33 335.82 L182.57 335.61 L179.81 335.39 L177.03 335.17 L174.23 334.96 L171.43 334.74 L168.61 334.54 L165.78 334.36 L162.94 334.19 L160.09 334.03 L157.23 333.88 L154.37 333.74 L151.49 333.6 L148.61 333.46 L145.71 333.33 L142.81 333.2 L139.91 333.07 L136.99 332.94 L134.08 332.82 L131.15 332.69 L128.23 332.55 L125.29 332.41 L122.36 332.27 L119.42 332.11 L116.48 331.93 L113.54 331.73 L110.59 331.54 L107.65 331.38 L104.7 331.28Z" fill="#feed00"/>
<path d="M104.7 302.12 L107.54 301.98 L110.37 301.76 L113.21 301.5 L116.04 301.23 L118.87 300.98 L121.7 300.79 L124.53 300.61 L127.35 300.44 L130.17 300.29 L132.98 300.14 L135.79 299.99 L138.6 299.85 L141.4 299.71 L144.19 299.57 L146.97 299.43 L149.75 299.29 L152.52 299.14 L155.28 298.99 L158.03 298.84 L160.78 298.68 L163.51 298.52 L166.23 298.35 L168.95 298.15 L171.65 297.95 L174.34 297.74 L177.01 297.52 L179.68 297.3 L182.33 297.08 L184.97 296.87 L187.59 296.67 L190.2 296.48 L192.8 296.27 L195.38 296.07 L197.94 295.87 L200.49 295.67 L203.02 295.48 L205.53 295.31 L208.03 295.15 L210.51 295.01 L212.97 294.9 L215.41 294.78 L217.83 294.67 L220.23 294.56 L222.61 294.45 L224.98 294.36 L227.32 294.26 L229.63 294.18 L231.93 294.11 L234.21 294.05 L236.46 294.01 L238.69 293.98 L240.89 293.96 L243.08 293.96 L245.23 293.97 L247.37 293.99 L249.48 294.02 L251.56 294.06 L253.62 294.11 L255.65 294.17 L257.66 294.24 L259.64 294.31 L261.59 294.39 L263.51 294.47 L265.41 294.56 L267.28 294.66 L269.12 294.75 L270.93 294.85 L272.72 294.96 L274.47 295.12 L276.19 295.33 L277.89 295.56 L279.55 295.81 L281.19 296.07 L282.79 296.32 L284.36 296.56 L285.9 296.78 L287.41 296.99 L288.89 297.21 L290.33 297.42 L291.75 297.64 L293.13 297.87 L294.48 298.1 L295.79 298.36 L297.07 298.63 L298.32 298.93 L299.53 299.26 L300.71 299.6 L301.86 299.95 L302.97 300.3 L304.05 300.64 L305.09 300.99 L306.1 301.34 L307.07 301.71 L308 302.08 L308.91 302.46 L309.77 302.85 L310.6 303.26 L311.4 303.68 L312.15 304.11 L312.88 304.54 L313.56 304.97 L314.21 305.41 L314.82 305.87 L315.4 306.34 L315.94 306.85 L316.44 307.41 L316.91 307.98 L317.34 308.54 L317.73 309.1 L318.09 309.66 L318.4 310.25 L318.68 310.9 L318.93 311.66 L319.13 312.37 L319.3 313.01 L319.43 313.6 L319.53 314.16 L319.58 314.69 L319.6 315.2 L319.58 315.71 L319.53 316.24 L319.43 316.8 L319.3 317.39 L319.13 318.03 L318.93 318.74 L318.68 319.5 L318.4 320.15 L318.09 320.74 L317.73 321.3 L317.34 321.86 L316.91 322.42 L316.44 322.99 L315.94 323.55 L315.4 324.06 L314.82 324.53 L314.21 324.99 L313.56 325.43 L312.88 325.86 L312.15 326.29 L311.4 326.72 L310.6 327.14 L309.77 327.55 L308.91 327.94 L308 328.32 L307.07 328.69 L306.1 329.06 L305.09 329.41 L304.05 329.76 L302.97 330.1 L301.86 330.45 L300.71 330.8 L299.53 331.14 L298.32 331.47 L297.07 331.77 L295.79 332.04 L294.48 332.3 L293.13 332.53 L291.75 332.76 L290.33 332.98 L288.89 333.19 L287.41 333.41 L285.9 333.62 L284.36 333.84 L282.79 334.08 L281.19 334.33 L279.55 334.59 L277.89 334.84 L276.19 335.07 L274.47 335.28 L272.72 335.44 L270.93 335.55 L269.12 335.65 L267.28 335.74 L265.41 335.84 L263.51 335.93 L261.59 336.01 L259.64 336.09 L257.66 336.16 L255.65 336.23 L253.62 336.29 L251.56 336.34 L249.48 336.38 L247.37 336.41 L245.23 336.43 L243.08 336.44 L240.89 336.44 L238.69 336.42 L236.46 336.39 L234.21 336.35 L231.93 336.29 L229.63 336.22 L227.32 336.14 L224.98 336.04 L222.61 335.95 L220.23 335.84 L217.83 335.73 L215.41 335.62 L212.97 335.5 L210.51 335.39 L208.03 335.25 L205.53 335.09 L203.02 334.92 L200.49 334.73 L197.94 334.53 L195.38 334.33 L192.8 334.13 L190.2 333.92 L187.59 333.73 L184.97 333.53 L182.33 333.32 L179.68 333.1 L177.01 332.88 L174.34 332.66 L171.65 332.45 L168.95 332.25 L166.23 332.05 L163.51 331.88 L160.78 331.72 L158.03 331.56 L155.28 331.41 L152.52 331.26 L149.75 331.11 L146.97 330.97 L144.19 330.83 L141.4 330.69 L138.6 330.55 L135.79 330.41 L132.98 330.26 L130.17 330.11 L127.35 329.96 L124.53 329.79 L121.7 329.61 L118.87 329.42 L116.04 329.17 L113.21 328.9 L110.37 328.64 L107.54 328.42 L104.7 328.28Z" fill="#ffbd00"/>
<path d="M104.7 306.66 L107.44 306.43 L110.17 306.07 L112.91 305.65 L115.65 305.23 L118.38 304.85 L121.11 304.54 L123.84 304.26 L126.56 304 L129.28 303.76 L132 303.53 L134.71 303.31 L137.41 303.1 L140.12 302.9 L142.81 302.71 L145.5 302.52 L148.18 302.33 L150.85 302.13 L153.52 301.94 L156.17 301.74 L158.82 301.53 L161.46 301.32 L164.09 301.1 L166.7 300.88 L169.31 300.64 L171.91 300.39 L174.49 300.13 L177.06 299.88 L179.62 299.62 L182.17 299.38 L184.7 299.14 L187.22 298.92 L189.72 298.72 L192.21 298.51 L194.69 298.3 L197.15 298.09 L199.59 297.89 L202.01 297.7 L204.42 297.52 L206.82 297.35 L209.19 297.2 L211.54 297.08 L213.88 296.96 L216.2 296.85 L218.5 296.74 L220.78 296.63 L223.04 296.53 L225.27 296.44 L227.49 296.35 L229.69 296.27 L231.86 296.2 L234.01 296.14 L236.14 296.1 L238.25 296.06 L240.33 296.04 L242.39 296.04 L244.42 296.04 L246.44 296.06 L248.42 296.09 L250.38 296.12 L252.32 296.17 L254.23 296.22 L256.11 296.28 L257.97 296.34 L259.8 296.41 L261.61 296.49 L263.38 296.57 L265.13 296.65 L266.85 296.74 L268.54 296.83 L270.21 296.92 L271.84 297.02 L273.45 297.14 L275.03 297.32 L276.57 297.52 L278.09 297.75 L279.58 297.99 L281.04 298.23 L282.46 298.47 L283.86 298.7 L285.22 298.92 L286.55 299.14 L287.85 299.36 L289.12 299.58 L290.36 299.8 L291.56 300.03 L292.73 300.27 L293.87 300.52 L294.98 300.79 L296.05 301.08 L297.09 301.4 L298.09 301.76 L299.07 302.13 L300.01 302.52 L300.91 302.93 L301.78 303.36 L302.61 303.79 L303.42 304.21 L304.18 304.61 L304.91 305 L305.61 305.39 L306.27 305.79 L306.9 306.19 L307.49 306.62 L308.05 307.07 L308.57 307.57 L309.05 308.06 L309.5 308.54 L309.92 309.03 L310.3 309.53 L310.64 310.04 L310.94 310.6 L311.22 311.25 L311.45 311.94 L311.65 312.56 L311.81 313.15 L311.94 313.7 L312.03 314.22 L312.08 314.72 L312.1 315.2 L312.08 315.68 L312.03 316.18 L311.94 316.7 L311.81 317.25 L311.65 317.84 L311.45 318.46 L311.22 319.15 L310.94 319.8 L310.64 320.36 L310.3 320.87 L309.92 321.37 L309.5 321.86 L309.05 322.34 L308.57 322.83 L308.05 323.33 L307.49 323.78 L306.9 324.21 L306.27 324.61 L305.61 325.01 L304.91 325.4 L304.18 325.79 L303.42 326.19 L302.61 326.61 L301.78 327.04 L300.91 327.47 L300.01 327.88 L299.07 328.27 L298.09 328.64 L297.09 329 L296.05 329.32 L294.98 329.61 L293.87 329.88 L292.73 330.13 L291.56 330.37 L290.36 330.6 L289.12 330.82 L287.85 331.04 L286.55 331.26 L285.22 331.48 L283.86 331.7 L282.46 331.93 L281.04 332.17 L279.58 332.41 L278.09 332.65 L276.57 332.88 L275.03 333.08 L273.45 333.26 L271.84 333.38 L270.21 333.48 L268.54 333.57 L266.85 333.66 L265.13 333.75 L263.38 333.83 L261.61 333.91 L259.8 333.99 L257.97 334.06 L256.11 334.12 L254.23 334.18 L252.32 334.23 L250.38 334.28 L248.42 334.31 L246.44 334.34 L244.42 334.36 L242.39 334.36 L240.33 334.36 L238.25 334.34 L236.14 334.3 L234.01 334.26 L231.86 334.2 L229.69 334.13 L227.49 334.05 L225.27 333.96 L223.04 333.87 L220.78 333.77 L218.5 333.66 L216.2 333.55 L213.88 333.44 L211.54 333.32 L209.19 333.2 L206.82 333.05 L204.42 332.88 L202.01 332.7 L199.59 332.51 L197.15 332.31 L194.69 332.1 L192.21 331.89 L189.72 331.68 L187.22 331.48 L184.7 331.26 L182.17 331.02 L179.62 330.78 L177.06 330.52 L174.49 330.27 L171.91 330.01 L169.31 329.76 L166.7 329.52 L164.09 329.3 L161.46 329.08 L158.82 328.87 L156.17 328.66 L153.52 328.46 L150.85 328.27 L148.18 328.07 L145.5 327.88 L142.81 327.69 L140.12 327.5 L137.41 327.3 L134.71 327.09 L132 326.87 L129.28 326.64 L126.56 326.4 L123.84 326.14 L121.11 325.86 L118.38 325.55 L115.65 325.17 L112.91 324.75 L110.17 324.33 L107.44 323.97 L104.7 323.74Z" fill="#ff8900"/>
<path d="M120 315.2 L120.02 315 L120.07 314.8 L120.16 314.59 L120.29 314.38 L120.45 314.17 L120.65 313.95 L120.88 313.73 L121.15 313.51 L121.45 313.28 L121.79 313.05 L122.16 312.81 L122.57 312.57 L123.02 312.32 L123.49 312.06 L124.01 311.8 L124.55 311.52 L125.14 311.24 L125.75 310.98 L126.4 310.74 L127.08 310.52 L127.8 310.31 L128.55 310.11 L129.33 309.92 L130.14 309.73 L130.99 309.54 L131.86 309.36 L132.77 309.18 L133.71 309.01 L134.68 308.83 L135.68 308.66 L136.71 308.48 L137.77 308.31 L138.85 308.13 L139.97 307.96 L141.11 307.78 L142.28 307.6 L143.48 307.42 L144.71 307.24 L145.96 307.06 L147.24 306.89 L148.54 306.72 L149.87 306.55 L151.22 306.39 L152.6 306.22 L153.99 306.05 L155.42 305.88 L156.86 305.71 L158.32 305.54 L159.81 305.36 L161.32 305.18 L162.84 304.99 L164.39 304.8 L165.95 304.59 L167.53 304.38 L169.13 304.14 L170.75 303.9 L172.38 303.65 L174.02 303.39 L175.69 303.13 L177.36 302.87 L179.05 302.62 L180.75 302.38 L182.47 302.14 L184.19 301.91 L185.93 301.69 L187.68 301.48 L189.43 301.28 L191.2 301.08 L192.97 300.88 L194.75 300.68 L196.54 300.48 L198.33 300.3 L200.13 300.11 L201.93 299.94 L203.74 299.77 L205.55 299.61 L207.36 299.47 L209.18 299.34 L210.99 299.22 L212.81 299.12 L214.62 299.02 L216.44 298.92 L218.25 298.83 L220.06 298.73 L221.87 298.64 L223.67 298.56 L225.47 298.48 L227.26 298.4 L229.05 298.33 L230.83 298.27 L232.6 298.21 L234.37 298.16 L236.12 298.13 L237.87 298.1 L239.61 298.08 L241.33 298.06 L243.05 298.06 L244.75 298.07 L246.44 298.09 L248.11 298.11 L249.78 298.14 L251.42 298.18 L253.05 298.22 L254.67 298.27 L256.27 298.32 L257.85 298.38 L259.41 298.45 L260.96 298.51 L262.48 298.59 L263.99 298.66 L265.48 298.74 L266.94 298.82 L268.38 298.91 L269.81 299 L271.2 299.09 L272.58 299.19 L273.93 299.34 L275.26 299.52 L276.56 299.73 L277.84 299.96 L279.09 300.21 L280.32 300.47 L281.52 300.73 L282.69 301 L283.83 301.26 L284.95 301.51 L286.03 301.76 L287.09 302.01 L288.12 302.26 L289.12 302.52 L290.09 302.78 L291.03 303.06 L291.94 303.34 L292.81 303.64 L293.66 303.94 L294.47 304.24 L295.25 304.55 L296 304.87 L296.72 305.21 L297.4 305.56 L298.05 305.94 L298.66 306.33 L299.25 306.76 L299.79 307.23 L300.31 307.73 L300.78 308.23 L301.23 308.72 L301.64 309.21 L302.01 309.71 L302.35 310.23 L302.65 310.8 L302.92 311.48 L303.15 312.13 L303.35 312.72 L303.51 313.27 L303.64 313.79 L303.73 314.28 L303.78 314.75 L303.8 315.2 L303.78 315.65 L303.73 316.12 L303.64 316.61 L303.51 317.13 L303.35 317.68 L303.15 318.27 L302.92 318.92 L302.65 319.6 L302.35 320.17 L302.01 320.69 L301.64 321.19 L301.23 321.68 L300.78 322.17 L300.31 322.67 L299.79 323.17 L299.25 323.64 L298.66 324.07 L298.05 324.46 L297.4 324.84 L296.72 325.19 L296 325.53 L295.25 325.85 L294.47 326.16 L293.66 326.46 L292.81 326.76 L291.94 327.06 L291.03 327.34 L290.09 327.62 L289.12 327.88 L288.12 328.14 L287.09 328.39 L286.03 328.64 L284.95 328.89 L283.83 329.14 L282.69 329.4 L281.52 329.67 L280.32 329.93 L279.09 330.19 L277.84 330.44 L276.56 330.67 L275.26 330.88 L273.93 331.06 L272.58 331.21 L271.2 331.31 L269.81 331.4 L268.38 331.49 L266.94 331.58 L265.48 331.66 L263.99 331.74 L262.48 331.81 L260.96 331.89 L259.41 331.95 L257.85 332.02 L256.27 332.08 L254.67 332.13 L253.05 332.18 L251.42 332.22 L249.78 332.26 L248.11 332.29 L246.44 332.31 L244.75 332.33 L243.05 332.34 L241.33 332.34 L239.61 332.32 L237.87 332.3 L236.12 332.27 L234.37 332.24 L232.6 332.19 L230.83 332.13 L229.05 332.07 L227.26 332 L225.47 331.92 L223.67 331.84 L221.87 331.76 L220.06 331.67 L218.25 331.57 L216.44 331.48 L214.62 331.38 L212.81 331.28 L210.99 331.18 L209.18 331.06 L207.36 330.93 L205.55 330.79 L203.74 330.63 L201.93 330.46 L200.13 330.29 L198.33 330.1 L196.54 329.92 L194.75 329.72 L192.97 329.52 L191.2 329.32 L189.43 329.12 L187.68 328.92 L185.93 328.71 L184.19 328.49 L182.47 328.26 L180.75 328.02 L179.05 327.78 L177.36 327.53 L175.69 327.27 L174.02 327.01 L172.38 326.75 L170.75 326.5 L169.13 326.26 L167.53 326.02 L165.95 325.81 L164.39 325.6 L162.84 325.41 L161.32 325.22 L159.81 325.04 L158.32 324.86 L156.86 324.69 L155.42 324.52 L153.99 324.35 L152.6 324.18 L151.22 324.01 L149.87 323.85 L148.54 323.68 L147.24 323.51 L145.96 323.34 L144.71 323.16 L143.48 322.98 L142.28 322.8 L141.11 322.62 L139.97 322.44 L138.85 322.27 L137.77 322.09 L136.71 321.92 L135.68 321.74 L134.68 321.57 L133.71 321.39 L132.77 321.22 L131.86 321.04 L130.99 320.86 L130.14 320.67 L129.33 320.48 L128.55 320.29 L127.8 320.09 L127.08 319.88 L126.4 319.66 L125.75 319.42 L125.14 319.16 L124.55 318.88 L124.01 318.6 L123.49 318.34 L123.02 318.08 L122.57 317.83 L122.16 317.59 L121.79 317.35 L121.45 317.12 L121.15 316.89 L120.88 316.67 L120.65 316.45 L120.45 316.23 L120.29 316.02 L120.16 315.81 L120.07 315.6 L120.02 315.4 L120 315.2Z" fill="#ff5900"/>
<path d="M164.5 315.2 L164.51 315.02 L164.55 314.84 L164.62 314.65 L164.7 314.46 L164.82 314.27 L164.96 314.07 L165.13 313.87 L165.32 313.66 L165.53 313.44 L165.78 313.22 L166.04 312.99 L166.33 312.75 L166.65 312.5 L166.99 312.24 L167.36 311.97 L167.75 311.68 L168.16 311.38 L168.6 311.07 L169.07 310.78 L169.55 310.52 L170.06 310.26 L170.6 310.02 L171.15 309.78 L171.73 309.54 L172.34 309.3 L172.96 309.07 L173.61 308.83 L174.28 308.59 L174.97 308.35 L175.68 308.11 L176.42 307.87 L177.17 307.63 L177.95 307.38 L178.74 307.14 L179.56 306.9 L180.4 306.68 L181.25 306.47 L182.12 306.26 L183.02 306.07 L183.93 305.87 L184.86 305.68 L185.8 305.5 L186.77 305.32 L187.75 305.15 L188.75 304.98 L189.76 304.8 L190.79 304.63 L191.84 304.45 L192.9 304.27 L193.97 304.08 L195.06 303.89 L196.16 303.71 L197.28 303.52 L198.4 303.33 L199.54 303.15 L200.7 302.97 L201.86 302.8 L203.03 302.64 L204.22 302.48 L205.41 302.34 L206.62 302.2 L207.83 302.06 L209.06 301.94 L210.29 301.83 L211.53 301.73 L212.77 301.63 L214.02 301.54 L215.28 301.44 L216.55 301.35 L217.82 301.26 L219.09 301.17 L220.37 301.08 L221.65 300.99 L222.94 300.91 L224.23 300.83 L225.52 300.75 L226.81 300.68 L228.11 300.62 L229.4 300.55 L230.7 300.5 L231.99 300.44 L233.29 300.4 L234.58 300.35 L235.87 300.32 L237.16 300.29 L238.45 300.26 L239.73 300.25 L241.01 300.24 L242.28 300.23 L243.55 300.24 L244.82 300.25 L246.08 300.26 L247.33 300.28 L248.57 300.31 L249.81 300.34 L251.04 300.37 L252.27 300.41 L253.48 300.45 L254.69 300.5 L255.88 300.55 L257.07 300.6 L258.24 300.66 L259.4 300.73 L260.56 300.79 L261.7 300.86 L262.83 300.93 L263.94 301.01 L265.04 301.09 L266.13 301.17 L267.2 301.26 L268.26 301.35 L269.31 301.44 L270.34 301.53 L271.35 301.62 L272.35 301.72 L273.33 301.85 L274.3 302.01 L275.24 302.2 L276.17 302.41 L277.08 302.64 L277.98 302.89 L278.85 303.16 L279.7 303.44 L280.54 303.73 L281.36 304.01 L282.15 304.29 L282.93 304.56 L283.68 304.82 L284.42 305.07 L285.13 305.31 L285.82 305.55 L286.49 305.8 L287.14 306.05 L287.76 306.3 L288.37 306.57 L288.95 306.84 L289.5 307.14 L290.04 307.45 L290.55 307.76 L291.03 308.07 L291.5 308.38 L291.94 308.7 L292.35 309.02 L292.74 309.34 L293.11 309.67 L293.45 310.02 L293.77 310.39 L294.06 310.78 L294.32 311.24 L294.57 311.72 L294.78 312.18 L294.97 312.61 L295.14 313.02 L295.28 313.41 L295.4 313.79 L295.48 314.16 L295.55 314.52 L295.59 314.86 L295.6 315.2 L295.59 315.54 L295.55 315.88 L295.48 316.24 L295.4 316.61 L295.28 316.99 L295.14 317.38 L294.97 317.79 L294.78 318.22 L294.57 318.68 L294.32 319.16 L294.06 319.62 L293.77 320.01 L293.45 320.38 L293.11 320.73 L292.74 321.06 L292.35 321.38 L291.94 321.7 L291.5 322.02 L291.03 322.33 L290.55 322.64 L290.04 322.95 L289.5 323.26 L288.95 323.56 L288.37 323.83 L287.76 324.1 L287.14 324.35 L286.49 324.6 L285.82 324.85 L285.13 325.09 L284.42 325.33 L283.68 325.58 L282.93 325.84 L282.15 326.11 L281.36 326.39 L280.54 326.67 L279.7 326.96 L278.85 327.24 L277.98 327.51 L277.08 327.76 L276.17 327.99 L275.24 328.2 L274.3 328.39 L273.33 328.55 L272.35 328.68 L271.35 328.78 L270.34 328.87 L269.31 328.96 L268.26 329.05 L267.2 329.14 L266.13 329.23 L265.04 329.31 L263.94 329.39 L262.83 329.47 L261.7 329.54 L260.56 329.61 L259.4 329.67 L258.24 329.74 L257.07 329.8 L255.88 329.85 L254.69 329.9 L253.48 329.95 L252.27 329.99 L251.04 330.03 L249.81 330.06 L248.57 330.09 L247.33 330.12 L246.08 330.14 L244.82 330.15 L243.55 330.16 L242.28 330.17 L241.01 330.16 L239.73 330.15 L238.45 330.14 L237.16 330.11 L235.87 330.08 L234.58 330.05 L233.29 330 L231.99 329.96 L230.7 329.9 L229.4 329.85 L228.11 329.78 L226.81 329.72 L225.52 329.65 L224.23 329.57 L222.94 329.49 L221.65 329.41 L220.37 329.32 L219.09 329.23 L217.82 329.14 L216.55 329.05 L215.28 328.96 L214.02 328.86 L212.77 328.77 L211.53 328.67 L210.29 328.57 L209.06 328.46 L207.83 328.34 L206.62 328.2 L205.41 328.06 L204.22 327.92 L203.03 327.76 L201.86 327.6 L200.7 327.43 L199.54 327.25 L198.4 327.07 L197.28 326.88 L196.16 326.69 L195.06 326.51 L193.97 326.32 L192.9 326.13 L191.84 325.95 L190.79 325.77 L189.76 325.6 L188.75 325.42 L187.75 325.25 L186.77 325.08 L185.8 324.9 L184.86 324.72 L183.93 324.53 L183.02 324.33 L182.12 324.14 L181.25 323.93 L180.4 323.72 L179.56 323.5 L178.74 323.26 L177.95 323.02 L177.17 322.77 L176.42 322.53 L175.68 322.29 L174.97 322.05 L174.28 321.81 L173.61 321.57 L172.96 321.33 L172.34 321.1 L171.73 320.86 L171.15 320.62 L170.6 320.38 L170.06 320.14 L169.55 319.88 L169.07 319.62 L168.6 319.33 L168.16 319.02 L167.75 318.72 L167.36 318.43 L166.99 318.16 L166.65 317.9 L166.33 317.65 L166.04 317.41 L165.78 317.18 L165.53 316.96 L165.32 316.74 L165.13 316.53 L164.96 316.33 L164.82 316.13 L164.7 315.94 L164.62 315.75 L164.55 315.56 L164.51 315.38 L164.5 315.2Z" fill="#ff2500"/>
<path d="M188.6 315.2 L188.61 315.02 L188.64 314.84 L188.68 314.66 L188.75 314.48 L188.83 314.29 L188.94 314.09 L189.06 313.9 L189.2 313.7 L189.35 313.49 L189.53 313.28 L189.72 313.06 L189.94 312.84 L190.17 312.61 L190.42 312.37 L190.68 312.13 L190.97 311.87 L191.27 311.61 L191.59 311.33 L191.93 311.05 L192.28 310.79 L192.65 310.55 L193.04 310.33 L193.45 310.11 L193.87 309.9 L194.31 309.69 L194.76 309.49 L195.24 309.28 L195.72 309.09 L196.23 308.89 L196.75 308.69 L197.28 308.49 L197.83 308.3 L198.4 308.1 L198.98 307.91 L199.57 307.72 L200.18 307.52 L200.8 307.33 L201.44 307.14 L202.09 306.96 L202.75 306.79 L203.43 306.63 L204.12 306.47 L204.82 306.33 L205.54 306.18 L206.26 306.05 L207 305.92 L207.75 305.79 L208.51 305.67 L209.28 305.56 L210.07 305.45 L210.86 305.35 L211.66 305.26 L212.47 305.17 L213.3 305.08 L214.13 304.98 L214.97 304.89 L215.81 304.8 L216.67 304.71 L217.53 304.62 L218.4 304.53 L219.28 304.44 L220.17 304.35 L221.06 304.26 L221.95 304.17 L222.86 304.09 L223.76 304 L224.68 303.92 L225.59 303.84 L226.51 303.76 L227.44 303.69 L228.37 303.61 L229.3 303.54 L230.23 303.48 L231.17 303.42 L232.11 303.36 L233.05 303.3 L233.99 303.26 L234.94 303.21 L235.88 303.17 L236.82 303.14 L237.76 303.11 L238.71 303.09 L239.65 303.07 L240.59 303.06 L241.53 303.05 L242.47 303.05 L243.4 303.05 L244.33 303.06 L245.26 303.08 L246.19 303.09 L247.11 303.12 L248.02 303.14 L248.94 303.17 L249.84 303.21 L250.75 303.25 L251.64 303.29 L252.53 303.33 L253.42 303.38 L254.3 303.43 L255.17 303.49 L256.03 303.55 L256.89 303.61 L257.73 303.68 L258.57 303.74 L259.4 303.81 L260.23 303.89 L261.04 303.96 L261.84 304.03 L262.63 304.11 L263.42 304.19 L264.19 304.27 L264.95 304.35 L265.7 304.43 L266.44 304.52 L267.16 304.6 L267.88 304.69 L268.58 304.77 L269.27 304.86 L269.95 304.95 L270.61 305.03 L271.26 305.12 L271.9 305.21 L272.52 305.31 L273.13 305.44 L273.72 305.57 L274.3 305.73 L274.87 305.9 L275.42 306.08 L275.95 306.28 L276.47 306.49 L276.98 306.72 L277.46 306.97 L277.94 307.23 L278.39 307.51 L278.83 307.8 L279.25 308.08 L279.66 308.36 L280.05 308.65 L280.42 308.94 L280.77 309.23 L281.11 309.52 L281.43 309.82 L281.73 310.13 L282.02 310.45 L282.28 310.79 L282.53 311.17 L282.76 311.58 L282.98 311.96 L283.17 312.32 L283.35 312.66 L283.5 312.98 L283.64 313.29 L283.76 313.59 L283.87 313.88 L283.95 314.16 L284.02 314.43 L284.06 314.69 L284.09 314.95 L284.1 315.2 L284.09 315.45 L284.06 315.71 L284.02 315.97 L283.95 316.24 L283.87 316.52 L283.76 316.81 L283.64 317.11 L283.5 317.42 L283.35 317.74 L283.17 318.08 L282.98 318.44 L282.76 318.82 L282.53 319.23 L282.28 319.61 L282.02 319.95 L281.73 320.27 L281.43 320.58 L281.11 320.88 L280.77 321.17 L280.42 321.46 L280.05 321.75 L279.66 322.04 L279.25 322.32 L278.83 322.6 L278.39 322.89 L277.94 323.17 L277.46 323.43 L276.98 323.68 L276.47 323.91 L275.95 324.12 L275.42 324.32 L274.87 324.5 L274.3 324.67 L273.72 324.83 L273.13 324.96 L272.52 325.09 L271.9 325.19 L271.26 325.28 L270.61 325.37 L269.95 325.45 L269.27 325.54 L268.58 325.63 L267.88 325.71 L267.16 325.8 L266.44 325.88 L265.7 325.97 L264.95 326.05 L264.19 326.13 L263.42 326.21 L262.63 326.29 L261.84 326.37 L261.04 326.44 L260.23 326.51 L259.4 326.59 L258.57 326.66 L257.73 326.72 L256.89 326.79 L256.03 326.85 L255.17 326.91 L254.3 326.97 L253.42 327.02 L252.53 327.07 L251.64 327.11 L250.75 327.15 L249.84 327.19 L248.94 327.23 L248.02 327.26 L247.11 327.28 L246.19 327.31 L245.26 327.32 L244.33 327.34 L243.4 327.35 L242.47 327.35 L241.53 327.35 L240.59 327.34 L239.65 327.33 L238.71 327.31 L237.76 327.29 L236.82 327.26 L235.88 327.23 L234.94 327.19 L233.99 327.14 L233.05 327.1 L232.11 327.04 L231.17 326.98 L230.23 326.92 L229.3 326.86 L228.37 326.79 L227.44 326.71 L226.51 326.64 L225.59 326.56 L224.68 326.48 L223.76 326.4 L222.86 326.31 L221.95 326.23 L221.06 326.14 L220.17 326.05 L219.28 325.96 L218.4 325.87 L217.53 325.78 L216.67 325.69 L215.81 325.6 L214.97 325.51 L214.13 325.42 L213.3 325.32 L212.47 325.23 L211.66 325.14 L210.86 325.05 L210.07 324.95 L209.28 324.84 L208.51 324.73 L207.75 324.61 L207 324.48 L206.26 324.35 L205.54 324.22 L204.82 324.07 L204.12 323.93 L203.43 323.77 L202.75 323.61 L202.09 323.44 L201.44 323.26 L200.8 323.07 L200.18 322.88 L199.57 322.68 L198.98 322.49 L198.4 322.3 L197.83 322.1 L197.28 321.91 L196.75 321.71 L196.23 321.51 L195.72 321.31 L195.24 321.12 L194.76 320.91 L194.31 320.71 L193.87 320.5 L193.45 320.29 L193.04 320.07 L192.65 319.85 L192.28 319.61 L191.93 319.35 L191.59 319.07 L191.27 318.79 L190.97 318.53 L190.68 318.27 L190.42 318.03 L190.17 317.79 L189.94 317.56 L189.72 317.34 L189.53 317.12 L189.35 316.91 L189.2 316.7 L189.06 316.5 L188.94 316.31 L188.83 316.11 L188.75 315.92 L188.68 315.74 L188.64 315.56 L188.61 315.38 L188.6 315.2Z" fill="#da0000"/>
<path d="M212 315.2 L212.01 315.09 L212.02 314.98 L212.05 314.86 L212.09 314.75 L212.15 314.63 L212.21 314.52 L212.29 314.4 L212.37 314.28 L212.47 314.16 L212.58 314.03 L212.7 313.91 L212.84 313.79 L212.98 313.66 L213.14 313.53 L213.3 313.4 L213.48 313.27 L213.67 313.13 L213.87 313 L214.08 312.86 L214.3 312.72 L214.54 312.58 L214.78 312.44 L215.03 312.29 L215.3 312.14 L215.57 311.99 L215.86 311.83 L216.15 311.67 L216.46 311.51 L216.78 311.34 L217.1 311.17 L217.44 311.01 L217.78 310.86 L218.13 310.72 L218.5 310.58 L218.87 310.45 L219.25 310.32 L219.64 310.2 L220.04 310.08 L220.45 309.96 L220.86 309.84 L221.29 309.73 L221.72 309.62 L222.16 309.51 L222.61 309.4 L223.06 309.3 L223.52 309.2 L223.99 309.1 L224.47 309 L224.95 308.9 L225.44 308.8 L225.94 308.71 L226.44 308.62 L226.95 308.53 L227.46 308.44 L227.98 308.35 L228.51 308.27 L229.04 308.19 L229.58 308.11 L230.12 308.03 L230.66 307.96 L231.21 307.89 L231.77 307.82 L232.32 307.75 L232.89 307.69 L233.45 307.63 L234.02 307.57 L234.59 307.52 L235.16 307.47 L235.74 307.42 L236.32 307.38 L236.9 307.34 L237.49 307.3 L238.07 307.27 L238.66 307.24 L239.25 307.22 L239.83 307.2 L240.42 307.18 L241.01 307.17 L241.6 307.17 L242.2 307.17 L242.79 307.17 L243.38 307.18 L243.97 307.19 L244.55 307.2 L245.14 307.22 L245.73 307.24 L246.31 307.26 L246.9 307.29 L247.48 307.32 L248.06 307.36 L248.64 307.4 L249.21 307.44 L249.78 307.48 L250.35 307.53 L250.91 307.58 L251.48 307.63 L252.03 307.69 L252.59 307.74 L253.14 307.81 L253.68 307.87 L254.22 307.93 L254.76 308 L255.29 308.07 L255.82 308.15 L256.34 308.22 L256.85 308.3 L257.36 308.38 L257.86 308.46 L258.36 308.55 L258.85 308.64 L259.33 308.72 L259.81 308.82 L260.28 308.91 L260.74 309 L261.19 309.1 L261.64 309.2 L262.08 309.3 L262.51 309.41 L262.94 309.51 L263.35 309.62 L263.76 309.73 L264.16 309.84 L264.55 309.96 L264.93 310.08 L265.3 310.2 L265.67 310.33 L266.02 310.46 L266.36 310.6 L266.7 310.74 L267.02 310.89 L267.34 311.05 L267.65 311.22 L267.94 311.4 L268.23 311.57 L268.5 311.74 L268.77 311.91 L269.02 312.08 L269.26 312.24 L269.5 312.4 L269.72 312.55 L269.93 312.71 L270.13 312.86 L270.32 313.01 L270.5 313.16 L270.66 313.31 L270.82 313.45 L270.96 313.6 L271.1 313.74 L271.22 313.88 L271.33 314.02 L271.43 314.15 L271.51 314.29 L271.59 314.42 L271.65 314.56 L271.71 314.69 L271.75 314.82 L271.78 314.95 L271.79 315.07 L271.8 315.2 L271.79 315.33 L271.78 315.45 L271.75 315.58 L271.71 315.71 L271.65 315.84 L271.59 315.98 L271.51 316.11 L271.43 316.25 L271.33 316.38 L271.22 316.52 L271.1 316.66 L270.96 316.8 L270.82 316.95 L270.66 317.09 L270.5 317.24 L270.32 317.39 L270.13 317.54 L269.93 317.69 L269.72 317.85 L269.5 318 L269.26 318.16 L269.02 318.32 L268.77 318.49 L268.5 318.66 L268.23 318.83 L267.94 319 L267.65 319.18 L267.34 319.35 L267.02 319.51 L266.7 319.66 L266.36 319.8 L266.02 319.94 L265.67 320.07 L265.3 320.2 L264.93 320.32 L264.55 320.44 L264.16 320.56 L263.76 320.67 L263.35 320.78 L262.94 320.89 L262.51 320.99 L262.08 321.1 L261.64 321.2 L261.19 321.3 L260.74 321.4 L260.28 321.49 L259.81 321.58 L259.33 321.68 L258.85 321.76 L258.36 321.85 L257.86 321.94 L257.36 322.02 L256.85 322.1 L256.34 322.18 L255.82 322.25 L255.29 322.33 L254.76 322.4 L254.22 322.47 L253.68 322.53 L253.14 322.59 L252.59 322.66 L252.03 322.71 L251.48 322.77 L250.91 322.82 L250.35 322.87 L249.78 322.92 L249.21 322.96 L248.64 323 L248.06 323.04 L247.48 323.08 L246.9 323.11 L246.31 323.14 L245.73 323.16 L245.14 323.18 L244.55 323.2 L243.97 323.21 L243.38 323.22 L242.79 323.23 L242.2 323.23 L241.6 323.23 L241.01 323.23 L240.42 323.22 L239.83 323.2 L239.25 323.18 L238.66 323.16 L238.07 323.13 L237.49 323.1 L236.9 323.06 L236.32 323.02 L235.74 322.98 L235.16 322.93 L234.59 322.88 L234.02 322.83 L233.45 322.77 L232.89 322.71 L232.32 322.65 L231.77 322.58 L231.21 322.51 L230.66 322.44 L230.12 322.37 L229.58 322.29 L229.04 322.21 L228.51 322.13 L227.98 322.05 L227.46 321.96 L226.95 321.87 L226.44 321.78 L225.94 321.69 L225.44 321.6 L224.95 321.5 L224.47 321.4 L223.99 321.3 L223.52 321.2 L223.06 321.1 L222.61 321 L222.16 320.89 L221.72 320.78 L221.29 320.67 L220.86 320.56 L220.45 320.44 L220.04 320.32 L219.64 320.2 L219.25 320.08 L218.87 319.95 L218.5 319.82 L218.13 319.68 L217.78 319.54 L217.44 319.39 L217.1 319.23 L216.78 319.06 L216.46 318.89 L216.15 318.73 L215.86 318.57 L215.57 318.41 L215.3 318.26 L215.03 318.11 L214.78 317.96 L214.54 317.82 L214.3 317.68 L214.08 317.54 L213.87 317.4 L213.67 317.27 L213.48 317.13 L213.3 317 L213.14 316.87 L212.98 316.74 L212.84 316.61 L212.7 316.49 L212.58 316.37 L212.47 316.24 L212.37 316.12 L212.29 316 L212.21 315.88 L212.15 315.77 L212.09 315.65 L212.05 315.54 L212.02 315.42 L212.01 315.31 L212 315.2Z" fill="#9b0000"/>
<g fill="none" stroke="#ffffff" stroke-opacity="0.53" stroke-width="1.15" stroke-linejoin="round">
<polyline stroke-width="1.15" points="121,47.7 121,134 370,134"/>
<polyline stroke-width="1.75" points="370,47.7 370,241"/>
<polyline stroke-width="1.15" points="362,134 362,241"/>
<polyline stroke-width="1.15" points="105.7,241 377.7,241 377.7,55.5 610.8,55.5 610.8,549 377.7,549 377.7,363.3 105.7,363.3"/>
<polyline stroke-width="1.15" points="362,363.3 362,470"/>
<polyline stroke-width="1.75" points="370,363.3 370,556.5"/>
<polyline stroke-width="1.15" points="121,556.5 121,470 370,470"/>
</g>
</g>
<rect x="105.7" y="47.7" width="513" height="508.8" fill="none" stroke="#000" stroke-width="2.5"/>
<g font-family='"DejaVu Sans","Liberation Sans",sans-serif' fill="#000">
<line x1="105.75" y1="556.5" x2="105.75" y2="565.8" stroke="#000" stroke-width="2.0"/>
<text x="105.75" y="590.7" font-size="24.6" text-anchor="middle">0.0</text>
<line x1="227.4" y1="556.5" x2="227.4" y2="565.8" stroke="#000" stroke-width="2.0"/>
<text x="227.4" y="590.7" font-size="24.6" text-anchor="middle">2.5</text>
<line x1="349.05" y1="556.5" x2="349.05" y2="565.8" stroke="#000" stroke-width="2.0"/>
<text x="349.05" y="590.7" font-size="24.6" text-anchor="middle">5.0</text>
<line x1="470.7" y1="556.5" x2="470.7" y2="565.8" stroke="#000" stroke-width="2.0"/>
<text x="470.7" y="590.7" font-size="24.6" text-anchor="middle">7.5</text>
<line x1="592.35" y1="556.5" x2="592.35" y2="565.8" stroke="#000" stroke-width="2.0"/>
<text x="592.35" y="590.7" font-size="24.6" text-anchor="middle">10.0</text>
<line x1="96.4" y1="556.4" x2="105.7" y2="556.4" stroke="#000" stroke-width="2.0"/>
<text x="91" y="566.1" font-size="24.6" text-anchor="end">0.0</text>
<line x1="96.4" y1="435.7" x2="105.7" y2="435.7" stroke="#000" stroke-width="2.0"/>
<text x="91" y="445.4" font-size="24.6" text-anchor="end">2.5</text>
<line x1="96.4" y1="315" x2="105.7" y2="315" stroke="#000" stroke-width="2.0"/>
<text x="91" y="324.7" font-size="24.6" text-anchor="end">5.0</text>
<line x1="96.4" y1="194.3" x2="105.7" y2="194.3" stroke="#000" stroke-width="2.0"/>
<text x="91" y="204" font-size="24.6" text-anchor="end">7.5</text>
<line x1="96.4" y1="73.6" x2="105.7" y2="73.6" stroke="#000" stroke-width="2.0"/>
<text x="91" y="83.3" font-size="24.6" text-anchor="end">10.0</text>
<text x="362.2" y="626.3" font-size="30.8" text-anchor="middle">r (cm)</text>
<text transform="translate(24.4 302.4) rotate(-90)" font-size="30.8" text-anchor="middle">z (cm)</text>
</g>
<rect x="687.2" y="454" width="25.7" height="102.5" fill="#0000f1"/>
<rect x="687.2" y="352.3" width="25.7" height="102.5" fill="#00b0ff"/>
<rect x="687.2" y="250.6" width="25.7" height="102.5" fill="#7dff7a"/>
<rect x="687.2" y="148.9" width="25.7" height="102.5" fill="#ffc400"/>
<rect x="687.2" y="47.2" width="25.7" height="102.5" fill="#f10800"/>
<rect x="687.2" y="48" width="25.7" height="508.5" fill="none" stroke="#000" stroke-width="2.0"/>
<g font-family='"DejaVu Sans","Liberation Sans",sans-serif' fill="#000">
<line x1="712.9" y1="556.5" x2="721.8" y2="556.5" stroke="#000" stroke-width="2.0"/>
<text x="727" y="566" font-size="24.6">0.0</text>
<line x1="712.9" y1="454.8" x2="721.8" y2="454.8" stroke="#000" stroke-width="2.0"/>
<text x="727" y="464.3" font-size="24.6">0.5</text>
<line x1="712.9" y1="353.1" x2="721.8" y2="353.1" stroke="#000" stroke-width="2.0"/>
<text x="727" y="362.6" font-size="24.6">1.0</text>
<line x1="712.9" y1="251.4" x2="721.8" y2="251.4" stroke="#000" stroke-width="2.0"/>
<text x="727" y="260.9" font-size="24.6">1.4</text>
<line x1="712.9" y1="149.7" x2="721.8" y2="149.7" stroke="#000" stroke-width="2.0"/>
<text x="727" y="159.2" font-size="24.6">1.9</text>
<line x1="712.9" y1="48" x2="721.8" y2="48" stroke="#000" stroke-width="2.0"/>
<text x="727" y="57.5" font-size="24.6">2.4</text>
</g>
<g font-family='"Liberation Sans",Arial,sans-serif' fill="#000" font-size="33.1" stroke="#000" stroke-width="0.3">
<text x="106.1" y="27.2">(a)</text>
<text x="911.9" y="26.8">(b)</text>
<text x="619.8" y="27.2">n<tspan font-size="22.1" dy="7.5">e</tspan><tspan dy="-7.5"> (10</tspan><tspan font-size="22.1" dy="-10.3">15</tspan><tspan dy="10.3"> m</tspan><tspan font-size="22.1" dy="-10.3">-3</tspan><tspan dy="10.3">)</tspan></text>
</g>
<g clip-path="url(#cr)">
<path d="M913.8 388 C914.03 384.67 914.83 376 915.2 368 C915.57 360 915.8 349.33 916 340 C916.2 330.67 916.25 318.83 916.4 312 C916.55 305.17 916.53 301.83 916.9 299 C917.27 296.17 917.92 295.93 918.6 295 C919.28 294.07 919.93 293.87 921 293.4 C922.07 292.93 923.58 292.58 925 292.2 C926.42 291.82 928.08 291.03 929.5 291.1 C930.92 291.17 932.08 292.52 933.5 292.6 C934.92 292.68 936.25 292.07 938 291.6 C939.75 291.13 942 290.36 944 289.8 C946 289.24 948 288.63 950 288.25 C952 287.87 953.92 288.04 956 287.5 C958.08 286.96 960.33 285.67 962.5 285 C964.67 284.33 966.92 283.92 969 283.5 C971.08 283.08 973.17 283.17 975 282.5 C976.83 281.83 978.33 280.54 980 279.5 C981.67 278.46 983.33 277.12 985 276.25 C986.67 275.38 988.33 275.13 990 274.3 C991.67 273.47 993.33 272.13 995 271.25 C996.67 270.37 998.33 269.83 1000 269 C1001.67 268.17 1003.33 267.33 1005 266.25 C1006.67 265.17 1008.33 263.75 1010 262.5 C1011.67 261.25 1013.33 259.75 1015 258.75 C1016.67 257.75 1018.33 257.33 1020 256.5 C1021.67 255.67 1023.33 254.58 1025 253.75 C1026.67 252.92 1028.33 252.33 1030 251.5 C1031.67 250.67 1033.33 249.67 1035 248.75 C1036.67 247.83 1038.33 246.83 1040 246 C1041.67 245.17 1042.92 244.54 1045 243.75 C1047.08 242.96 1050.67 242.29 1052.5 241.25 C1054.33 240.21 1054.75 238.75 1056 237.5 C1057.25 236.25 1058.17 235 1060 233.75 C1061.83 232.5 1064.5 230.96 1067 230 C1069.5 229.04 1072.83 228.08 1075 228 C1077.17 227.92 1078.54 229.17 1080 229.5 C1081.46 229.83 1082.42 230.25 1083.75 230 C1085.08 229.75 1086.54 228.62 1088 228 C1089.46 227.38 1090.92 226.38 1092.5 226.25 C1094.08 226.12 1095.83 226.99 1097.5 227.2 C1099.17 227.41 1100.83 227.2 1102.5 227.5 C1104.17 227.8 1105.83 228.38 1107.5 229 C1109.17 229.62 1110.67 230.2 1112.5 231.25 C1114.33 232.3 1116.42 233.84 1118.5 235.3 C1120.58 236.76 1122.92 238.3 1125 240 C1127.08 241.7 1128.92 243.62 1131 245.5 C1133.08 247.38 1135.05 248.58 1137.5 251.25 C1139.95 253.92 1143.62 259.24 1145.7 261.5 C1147.78 263.76 1148.03 262.22 1150 264.8 C1151.97 267.38 1154.88 272.65 1157.5 277 C1160.12 281.35 1163.03 286.48 1165.7 290.9 C1168.37 295.32 1170.88 299.32 1173.5 303.5 C1176.12 307.68 1178.82 312.08 1181.4 316 C1183.98 319.92 1186.37 323.33 1189 327 C1191.63 330.67 1194.53 334.45 1197.2 338 C1199.87 341.55 1202.38 344.88 1205 348.3 C1207.62 351.72 1210.57 355.38 1212.9 358.5 C1215.23 361.62 1216.9 364.12 1219 367 C1221.1 369.88 1223.42 373.33 1225.5 375.8 C1227.58 378.27 1229.42 379.97 1231.5 381.8 C1233.58 383.63 1235.58 384.88 1238 386.8 C1240.42 388.72 1243.37 391.2 1246 393.3 C1248.63 395.4 1250.72 397.2 1253.8 399.4 C1256.88 401.6 1260.83 404.15 1264.5 406.5 C1268.17 408.85 1271.3 410.87 1275.8 413.5 C1280.3 416.13 1286.27 419.57 1291.5 422.3 C1296.73 425.03 1301.43 427.17 1307.2 429.9 C1312.97 432.63 1319.87 435.63 1326.1 438.7 C1332.33 441.77 1338.95 445.47 1344.6 448.3 C1350.25 451.13 1355.03 453.32 1360 455.7 C1364.97 458.08 1369.4 460.27 1374.4 462.6 C1379.4 464.93 1385.02 467.45 1390 469.7 C1394.98 471.95 1399.3 473.92 1404.3 476.1 C1409.3 478.28 1415.02 480.67 1420 482.8 C1424.98 484.93 1429.2 486.78 1434.2 488.9 C1439.2 491.02 1445.02 493.4 1450 495.5 C1454.98 497.6 1459.93 499.78 1464.1 501.5 C1468.27 503.22 1471.52 504.42 1475 505.8 C1478.48 507.18 1481.67 508.38 1485 509.8 C1488.33 511.22 1492.02 512.95 1495 514.3 C1497.98 515.65 1500.07 516.65 1502.9 517.9 C1505.73 519.15 1509.02 520.55 1512 521.8 C1514.98 523.05 1517.8 524.27 1520.8 525.4 C1523.8 526.53 1527 527.62 1530 528.6 C1533 529.58 1536.3 530.63 1538.8 531.3 C1541.3 531.97 1543.02 532.27 1545 532.6 C1546.98 532.93 1548.2 533.15 1550.7 533.3 C1553.2 533.45 1556.77 533.47 1560 533.5 C1563.23 533.53 1568.42 533.5 1570.1 533.5" fill="none" stroke="#fa5a3c" stroke-width="2.8" stroke-linejoin="round"/>
<circle cx="1164.5" cy="71" r="7.75" fill="#7351c8"/>
<circle cx="1164.5" cy="114.5" r="7.75" fill="#7351c8"/>
<circle cx="1164.5" cy="127.5" r="7.75" fill="#7351c8"/>
<circle cx="1067.25" cy="141.75" r="7.75" fill="#7351c8"/>
<circle cx="1132.75" cy="172" r="7.75" fill="#7351c8"/>
<circle cx="1164.5" cy="183" r="7.75" fill="#7351c8"/>
<circle cx="1132.75" cy="199" r="7.75" fill="#7351c8"/>
<circle cx="1164" cy="215.75" r="7.75" fill="#7351c8"/>
<circle cx="1132.75" cy="230.75" r="7.75" fill="#7351c8"/>
<circle cx="1067.25" cy="230.75" r="7.75" fill="#7351c8"/>
<circle cx="1067.25" cy="244.25" r="7.75" fill="#7351c8"/>
<circle cx="1100" cy="245" r="7.75" fill="#7351c8"/>
<circle cx="975.5" cy="256.25" r="7.75" fill="#7351c8"/>
<circle cx="915.1" cy="262.5" r="7.75" fill="#7351c8"/>
<circle cx="1025.75" cy="263.25" r="7.75" fill="#7351c8"/>
<circle cx="975.5" cy="271.75" r="7.75" fill="#7351c8"/>
<circle cx="1121.5" cy="271.25" r="7.75" fill="#7351c8"/>
<circle cx="974.5" cy="286.75" r="7.75" fill="#7351c8"/>
<circle cx="1225.9" cy="279.3" r="7.75" fill="#7351c8"/>
<circle cx="1289.5" cy="309.8" r="7.75" fill="#7351c8"/>
<circle cx="1350.5" cy="409.7" r="7.75" fill="#7351c8"/>
<circle cx="1414.8" cy="449.2" r="7.75" fill="#7351c8"/>
<circle cx="1453.6" cy="450.1" r="7.75" fill="#7351c8"/>
<circle cx="1453.6" cy="456.6" r="7.75" fill="#7351c8"/>
<circle cx="1536.4" cy="468.6" r="7.75" fill="#7351c8"/>
<path d="M922 348.1 L937.57 346.7 L953.14 345.3 L968.71 339.9 L984.28 334.3 L999.85 328.6 L1015.42 320.1 L1030.99 310.8 L1046.56 302.3 L1062.13 292.4 L1077.7 282.5 L1093.27 274.9 L1108.84 267.5 L1124.41 262.7 L1139.98 259 L1155.55 258.5 L1171.12 260.7 L1186.69 268.4 L1202.26 274.6 L1217.83 284.5 L1233.4 297.5 L1248.97 307.4 L1264.54 317.9 L1280.11 328.3 L1295.68 340.5 L1311.25 353.2 L1326.82 367.7 L1342.39 381.2 L1357.96 394.4 L1373.53 407.6 L1389.1 421.9 L1404.67 436.2 L1420.24 450.9 L1435.81 465.2 L1451.38 478.4 L1466.95 492.7 L1482.52 505.6 L1498.09 518.1 L1513.66 529.5 L1529.23 533" fill="none" stroke="#00c46e" stroke-width="3.3" stroke-linejoin="round"/>
<path d="M915.5 341.6 L928.5 341.6 L922 354.6Z" fill="#00c46e" stroke="#00c46e" stroke-width="2.0" stroke-linejoin="miter"/>
<path d="M931.07 340.2 L944.07 340.2 L937.57 353.2Z" fill="#00c46e" stroke="#00c46e" stroke-width="2.0" stroke-linejoin="miter"/>
<path d="M946.64 338.8 L959.64 338.8 L953.14 351.8Z" fill="#00c46e" stroke="#00c46e" stroke-width="2.0" stroke-linejoin="miter"/>
<path d="M962.21 333.4 L975.21 333.4 L968.71 346.4Z" fill="#00c46e" stroke="#00c46e" stroke-width="2.0" stroke-linejoin="miter"/>
<path d="M977.78 327.8 L990.78 327.8 L984.28 340.8Z" fill="#00c46e" stroke="#00c46e" stroke-width="2.0" stroke-linejoin="miter"/>
<path d="M993.35 322.1 L1006.35 322.1 L999.85 335.1Z" fill="#00c46e" stroke="#00c46e" stroke-width="2.0" stroke-linejoin="miter"/>
<path d="M1008.92 313.6 L1021.92 313.6 L1015.42 326.6Z" fill="#00c46e" stroke="#00c46e" stroke-width="2.0" stroke-linejoin="miter"/>
<path d="M1024.49 304.3 L1037.49 304.3 L1030.99 317.3Z" fill="#00c46e" stroke="#00c46e" stroke-width="2.0" stroke-linejoin="miter"/>
<path d="M1040.06 295.8 L1053.06 295.8 L1046.56 308.8Z" fill="#00c46e" stroke="#00c46e" stroke-width="2.0" stroke-linejoin="miter"/>
<path d="M1055.63 285.9 L1068.63 285.9 L1062.13 298.9Z" fill="#00c46e" stroke="#00c46e" stroke-width="2.0" stroke-linejoin="miter"/>
<path d="M1071.2 276 L1084.2 276 L1077.7 289Z" fill="#00c46e" stroke="#00c46e" stroke-width="2.0" stroke-linejoin="miter"/>
<path d="M1086.77 268.4 L1099.77 268.4 L1093.27 281.4Z" fill="#00c46e" stroke="#00c46e" stroke-width="2.0" stroke-linejoin="miter"/>
<path d="M1102.34 261 L1115.34 261 L1108.84 274Z" fill="#00c46e" stroke="#00c46e" stroke-width="2.0" stroke-linejoin="miter"/>
<path d="M1117.91 256.2 L1130.91 256.2 L1124.41 269.2Z" fill="#00c46e" stroke="#00c46e" stroke-width="2.0" stroke-linejoin="miter"/>
<path d="M1133.48 252.5 L1146.48 252.5 L1139.98 265.5Z" fill="#00c46e" stroke="#00c46e" stroke-width="2.0" stroke-linejoin="miter"/>
<path d="M1149.05 252 L1162.05 252 L1155.55 265Z" fill="#00c46e" stroke="#00c46e" stroke-width="2.0" stroke-linejoin="miter"/>
<path d="M1164.62 254.2 L1177.62 254.2 L1171.12 267.2Z" fill="#00c46e" stroke="#00c46e" stroke-width="2.0" stroke-linejoin="miter"/>
<path d="M1180.19 261.9 L1193.19 261.9 L1186.69 274.9Z" fill="#00c46e" stroke="#00c46e" stroke-width="2.0" stroke-linejoin="miter"/>
<path d="M1195.76 268.1 L1208.76 268.1 L1202.26 281.1Z" fill="#00c46e" stroke="#00c46e" stroke-width="2.0" stroke-linejoin="miter"/>
<path d="M1211.33 278 L1224.33 278 L1217.83 291Z" fill="#00c46e" stroke="#00c46e" stroke-width="2.0" stroke-linejoin="miter"/>
<path d="M1226.9 291 L1239.9 291 L1233.4 304Z" fill="#00c46e" stroke="#00c46e" stroke-width="2.0" stroke-linejoin="miter"/>
<path d="M1242.47 300.9 L1255.47 300.9 L1248.97 313.9Z" fill="#00c46e" stroke="#00c46e" stroke-width="2.0" stroke-linejoin="miter"/>
<path d="M1258.04 311.4 L1271.04 311.4 L1264.54 324.4Z" fill="#00c46e" stroke="#00c46e" stroke-width="2.0" stroke-linejoin="miter"/>
<path d="M1273.61 321.8 L1286.61 321.8 L1280.11 334.8Z" fill="#00c46e" stroke="#00c46e" stroke-width="2.0" stroke-linejoin="miter"/>
<path d="M1289.18 334 L1302.18 334 L1295.68 347Z" fill="#00c46e" stroke="#00c46e" stroke-width="2.0" stroke-linejoin="miter"/>
<path d="M1304.75 346.7 L1317.75 346.7 L1311.25 359.7Z" fill="#00c46e" stroke="#00c46e" stroke-width="2.0" stroke-linejoin="miter"/>
<path d="M1320.32 361.2 L1333.32 361.2 L1326.82 374.2Z" fill="#00c46e" stroke="#00c46e" stroke-width="2.0" stroke-linejoin="miter"/>
<path d="M1335.89 374.7 L1348.89 374.7 L1342.39 387.7Z" fill="#00c46e" stroke="#00c46e" stroke-width="2.0" stroke-linejoin="miter"/>
<path d="M1351.46 387.9 L1364.46 387.9 L1357.96 400.9Z" fill="#00c46e" stroke="#00c46e" stroke-width="2.0" stroke-linejoin="miter"/>
<path d="M1367.03 401.1 L1380.03 401.1 L1373.53 414.1Z" fill="#00c46e" stroke="#00c46e" stroke-width="2.0" stroke-linejoin="miter"/>
<path d="M1382.6 415.4 L1395.6 415.4 L1389.1 428.4Z" fill="#00c46e" stroke="#00c46e" stroke-width="2.0" stroke-linejoin="miter"/>
<path d="M1398.17 429.7 L1411.17 429.7 L1404.67 442.7Z" fill="#00c46e" stroke="#00c46e" stroke-width="2.0" stroke-linejoin="miter"/>
<path d="M1413.74 444.4 L1426.74 444.4 L1420.24 457.4Z" fill="#00c46e" stroke="#00c46e" stroke-width="2.0" stroke-linejoin="miter"/>
<path d="M1429.31 458.7 L1442.31 458.7 L1435.81 471.7Z" fill="#00c46e" stroke="#00c46e" stroke-width="2.0" stroke-linejoin="miter"/>
<path d="M1444.88 471.9 L1457.88 471.9 L1451.38 484.9Z" fill="#00c46e" stroke="#00c46e" stroke-width="2.0" stroke-linejoin="miter"/>
<path d="M1460.45 486.2 L1473.45 486.2 L1466.95 499.2Z" fill="#00c46e" stroke="#00c46e" stroke-width="2.0" stroke-linejoin="miter"/>
<path d="M1476.02 499.1 L1489.02 499.1 L1482.52 512.1Z" fill="#00c46e" stroke="#00c46e" stroke-width="2.0" stroke-linejoin="miter"/>
<path d="M1491.59 511.6 L1504.59 511.6 L1498.09 524.6Z" fill="#00c46e" stroke="#00c46e" stroke-width="2.0" stroke-linejoin="miter"/>
<path d="M1507.16 523 L1520.16 523 L1513.66 536Z" fill="#00c46e" stroke="#00c46e" stroke-width="2.0" stroke-linejoin="miter"/>
<path d="M1522.73 526.5 L1535.73 526.5 L1529.23 539.5Z" fill="#00c46e" stroke="#00c46e" stroke-width="2.0" stroke-linejoin="miter"/>
</g>
<rect x="913.5" y="47.6" width="683.9" height="509" fill="none" stroke="#000" stroke-width="3.0"/>
<g font-family='"DejaVu Sans","Liberation Sans",sans-serif' fill="#000">
<line x1="913.5" y1="556.6" x2="913.5" y2="565.9" stroke="#000" stroke-width="2.8"/>
<text x="913.5" y="590.3" font-size="24.9" text-anchor="middle">0.0</text>
<line x1="1069" y1="556.6" x2="1069" y2="565.9" stroke="#000" stroke-width="2.8"/>
<text x="1069" y="590.3" font-size="24.9" text-anchor="middle">2.5</text>
<line x1="1224.5" y1="556.6" x2="1224.5" y2="565.9" stroke="#000" stroke-width="2.8"/>
<text x="1224.5" y="590.3" font-size="24.9" text-anchor="middle">5.0</text>
<line x1="1380" y1="556.6" x2="1380" y2="565.9" stroke="#000" stroke-width="2.8"/>
<text x="1380" y="590.3" font-size="24.9" text-anchor="middle">7.5</text>
<line x1="1535.5" y1="556.6" x2="1535.5" y2="565.9" stroke="#000" stroke-width="2.8"/>
<text x="1535.5" y="590.3" font-size="24.9" text-anchor="middle">10.0</text>
<line x1="904.2" y1="533.5" x2="913.5" y2="533.5" stroke="#000" stroke-width="2.8"/>
<text x="899" y="543.2" font-size="24.9" text-anchor="end">0</text>
<line x1="904.2" y1="388.05" x2="913.5" y2="388.05" stroke="#000" stroke-width="2.8"/>
<text x="899" y="397.75" font-size="24.9" text-anchor="end">1</text>
<line x1="904.2" y1="242.6" x2="913.5" y2="242.6" stroke="#000" stroke-width="2.8"/>
<text x="899" y="252.3" font-size="24.9" text-anchor="end">2</text>
<line x1="904.2" y1="97.15" x2="913.5" y2="97.15" stroke="#000" stroke-width="2.8"/>
<text x="899" y="106.85" font-size="24.9" text-anchor="end">3</text>
<text x="1255.8" y="630.3" font-size="36.7" text-anchor="middle">Radial Position (cm)</text>
<text transform="translate(868.7 507.4) rotate(-90)" font-size="36.8" text-anchor="start">Electron density (m<tspan font-size="26.4" dy="-13.8" dx="-0.4">−3</tspan><tspan dy="13.8" dx="0.8">)</tspan></text>
<line x1="1267.1" y1="88" x2="1332.3" y2="88" stroke="#fa5a3c" stroke-width="2.8"/>
<circle cx="1299.8" cy="133.3" r="7.75" fill="#7351c8"/>
<line x1="1267.1" y1="178.1" x2="1332.3" y2="178.1" stroke="#00c46e" stroke-width="3.3"/>
<path d="M1293.3 171.6 L1306.3 171.6 L1299.8 184.6Z" fill="#00c46e" stroke="#00c46e" stroke-width="2.0" stroke-linejoin="miter"/>
<text x="1354.2" y="98.6" font-size="30.6">iPM2D</text>
<text x="1354.2" y="143.7" font-size="30.6">Exp.</text>
<text x="1354.2" y="188.9" font-size="30.6">Boeuf's Model</text>
</g>
</svg>
</body></html>
